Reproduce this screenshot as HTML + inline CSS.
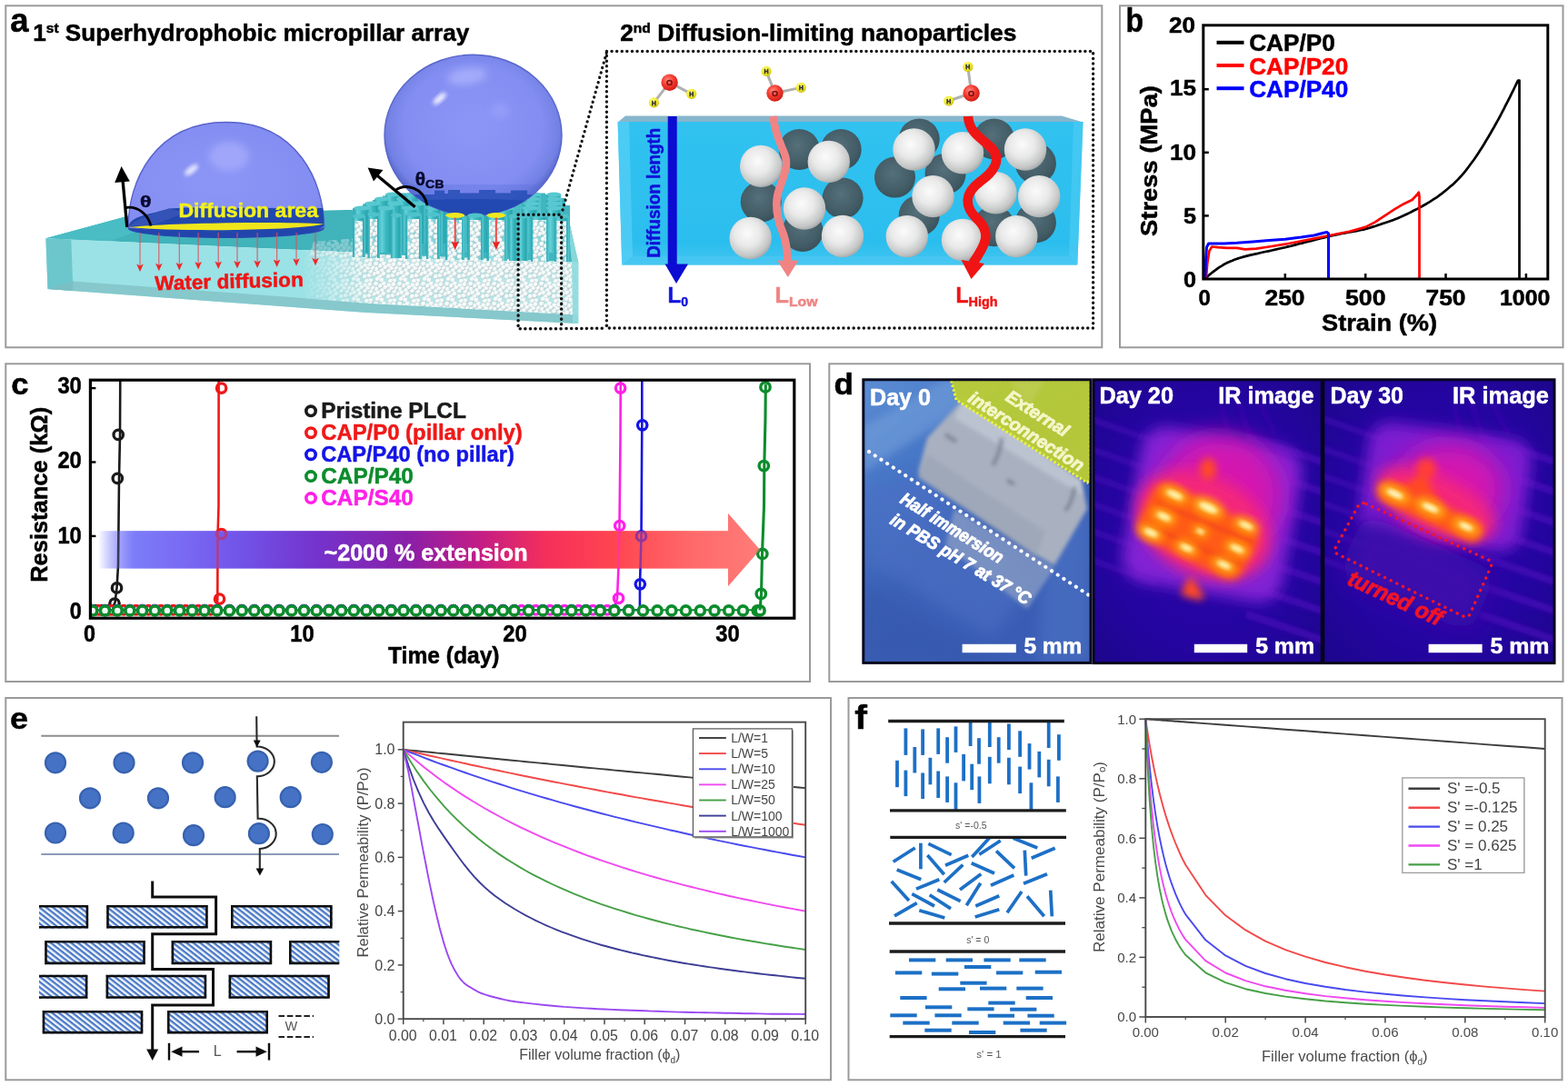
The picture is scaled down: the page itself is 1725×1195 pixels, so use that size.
<!DOCTYPE html>
<html lang="en"><head><meta charset="utf-8"><title>Figure</title>
<style>
html,body{margin:0;padding:0;background:#fff;}
body{width:1725px;height:1195px;overflow:hidden;}
svg{display:block;font-family:'Liberation Sans', sans-serif;}
</style></head>
<body>
<svg width="1725" height="1195" viewBox="0 0 1725 1195">
<defs>
<radialGradient id="np" cx="0.4" cy="0.35" r="0.7"><stop offset="0" stop-color="#ffffff"/><stop offset="0.6" stop-color="#eef4f4"/><stop offset="1" stop-color="#a9bcbc"/></radialGradient>
<pattern id="npat" width="26" height="22" patternUnits="userSpaceOnUse"><circle cx="11.8" cy="12.3" r="2.7" fill="url(#np)"/><circle cx="-2.0" cy="10.2" r="2.7" fill="url(#np)"/><circle cx="24.0" cy="10.2" r="2.7" fill="url(#np)"/><circle cx="4.8" cy="11.3" r="2.7" fill="url(#np)"/><circle cx="16.4" cy="17.4" r="2.7" fill="url(#np)"/><circle cx="2.4" cy="6.7" r="2.7" fill="url(#np)"/><circle cx="28.4" cy="6.7" r="2.7" fill="url(#np)"/><circle cx="2.4" cy="17.8" r="2.7" fill="url(#np)"/><circle cx="28.4" cy="17.8" r="2.7" fill="url(#np)"/><circle cx="18.0" cy="0.9" r="2.7" fill="url(#np)"/><circle cx="18.0" cy="22.9" r="2.7" fill="url(#np)"/><circle cx="-0.5" cy="-0.8" r="2.7" fill="url(#np)"/><circle cx="-0.5" cy="21.2" r="2.7" fill="url(#np)"/><circle cx="25.5" cy="-0.8" r="2.7" fill="url(#np)"/><circle cx="25.5" cy="21.2" r="2.7" fill="url(#np)"/><circle cx="4.1" cy="0.3" r="2.7" fill="url(#np)"/><circle cx="4.1" cy="22.3" r="2.7" fill="url(#np)"/><circle cx="13.7" cy="1.3" r="2.7" fill="url(#np)"/><circle cx="13.7" cy="23.3" r="2.7" fill="url(#np)"/><circle cx="11.5" cy="-3.5" r="2.7" fill="url(#np)"/><circle cx="11.5" cy="18.5" r="2.7" fill="url(#np)"/><circle cx="11.9" cy="6.1" r="2.7" fill="url(#np)"/><circle cx="21.8" cy="15.6" r="2.7" fill="url(#np)"/><circle cx="19.9" cy="8.8" r="2.7" fill="url(#np)"/><circle cx="6.5" cy="4.2" r="2.7" fill="url(#np)"/><circle cx="6.2" cy="15.5" r="2.7" fill="url(#np)"/><circle cx="-2.1" cy="4.5" r="2.7" fill="url(#np)"/><circle cx="23.9" cy="4.5" r="2.7" fill="url(#np)"/><circle cx="18.0" cy="12.9" r="2.7" fill="url(#np)"/><circle cx="8.1" cy="8.4" r="2.7" fill="url(#np)"/><circle cx="-0.0" cy="14.1" r="2.7" fill="url(#np)"/><circle cx="26.0" cy="14.1" r="2.7" fill="url(#np)"/><circle cx="15.1" cy="9.2" r="2.7" fill="url(#np)"/><circle cx="17.1" cy="5.2" r="2.7" fill="url(#np)"/></pattern>
<linearGradient id="npfade" x1="0" y1="0" x2="1" y2="0"><stop offset="0" stop-color="#fff" stop-opacity="0"/><stop offset="0.12" stop-color="#fff" stop-opacity="0.5"/><stop offset="0.25" stop-color="#fff" stop-opacity="1"/><stop offset="1" stop-color="#fff" stop-opacity="1"/></linearGradient>
<mask id="npmask"><rect x="330" y="230" width="320" height="140" fill="url(#npfade)"/></mask>
<linearGradient id="pil" x1="0" y1="0" x2="1" y2="0"><stop offset="0" stop-color="#2aa6b0"/><stop offset="0.25" stop-color="#66d2da"/><stop offset="0.5" stop-color="#3ab8c0"/><stop offset="0.8" stop-color="#2aa6b0"/><stop offset="1" stop-color="#58c8d0"/></linearGradient>
<radialGradient id="drop1" cx="0.45" cy="0.55" r="0.75"><stop offset="0" stop-color="#8c96f6"/><stop offset="0.7" stop-color="#848ef2"/><stop offset="0.93" stop-color="#7480e4"/><stop offset="1" stop-color="#6070d4"/></radialGradient>
<radialGradient id="drop2" cx="0.5" cy="0.45" r="0.52"><stop offset="0" stop-color="#8c96f6"/><stop offset="0.75" stop-color="#848ef2"/><stop offset="0.94" stop-color="#7280e4"/><stop offset="1" stop-color="#5e6ed2"/></radialGradient>
<linearGradient id="d2dark" x1="0" y1="0" x2="0" y2="1"><stop offset="0" stop-color="#2a48b8" stop-opacity="0"/><stop offset="0.45" stop-color="#2a48b8" stop-opacity="0.75"/><stop offset="1" stop-color="#2040b0" stop-opacity="0.95"/></linearGradient>
<radialGradient id="ws" cx="0.42" cy="0.38" r="0.68"><stop offset="0" stop-color="#fbfbfb"/><stop offset="0.45" stop-color="#e9e9e9"/><stop offset="0.8" stop-color="#c4c6c6"/><stop offset="1" stop-color="#9a9e9e"/></radialGradient>
<radialGradient id="ds" cx="0.45" cy="0.4" r="0.7"><stop offset="0" stop-color="#55707a"/><stop offset="0.7" stop-color="#415a64"/><stop offset="1" stop-color="#33484f"/></radialGradient>
<radialGradient id="ox" cx="0.4" cy="0.35" r="0.7"><stop offset="0" stop-color="#ff8a80"/><stop offset="0.5" stop-color="#f63a30"/><stop offset="1" stop-color="#c81a14"/></radialGradient>
<radialGradient id="hy" cx="0.4" cy="0.35" r="0.7"><stop offset="0" stop-color="#ffff90"/><stop offset="0.6" stop-color="#f2ea20"/><stop offset="1" stop-color="#c4b810"/></radialGradient>
<linearGradient id="insf" x1="0" y1="0" x2="0" y2="1"><stop offset="0" stop-color="#30c2f0"/><stop offset="0.85" stop-color="#2cbeee"/><stop offset="1" stop-color="#44c6f0"/></linearGradient>
<clipPath id="d2clip"><ellipse cx="520.5" cy="148.8" rx="97.5" ry="88.5"/></clipPath>
<linearGradient id="cg" x1="0" y1="0" x2="1" y2="0">
<stop offset="0" stop-color="#8080ff" stop-opacity="0"/>
<stop offset="0.025" stop-color="#8080fc" stop-opacity="0.45"/>
<stop offset="0.055" stop-color="#7c7cf8" stop-opacity="1"/>
<stop offset="0.12" stop-color="#7a6cf4"/>
<stop offset="0.22" stop-color="#7152e8"/>
<stop offset="0.33" stop-color="#7433cc"/>
<stop offset="0.47" stop-color="#8a1fa8"/>
<stop offset="0.58" stop-color="#c51d84"/>
<stop offset="0.68" stop-color="#f5305a"/>
<stop offset="0.78" stop-color="#ff4550"/>
<stop offset="0.9" stop-color="#ff6a6a"/>
<stop offset="1" stop-color="#ff7c78"/>
</linearGradient>
<filter id="bl2" x="-20%" y="-20%" width="140%" height="140%"><feGaussianBlur stdDeviation="2"/></filter>
<filter id="bl4" x="-30%" y="-30%" width="160%" height="160%"><feGaussianBlur stdDeviation="4"/></filter>
<filter id="bl8" x="-40%" y="-40%" width="180%" height="180%"><feGaussianBlur stdDeviation="8"/></filter>
<filter id="bl16" x="-60%" y="-60%" width="220%" height="220%"><feGaussianBlur stdDeviation="16"/></filter>
<filter id="bl1" x="-20%" y="-20%" width="140%" height="140%"><feGaussianBlur stdDeviation="1"/></filter>
<linearGradient id="d1bg" x1="0" y1="0" x2="0.6" y2="1">
<stop offset="0" stop-color="#5c8ed4"/><stop offset="0.28" stop-color="#4878c8"/><stop offset="0.6" stop-color="#3c62b8"/><stop offset="1" stop-color="#3a5cb4"/>
</linearGradient>
<radialGradient id="irbg" cx="0.5" cy="0.5" r="0.75">
<stop offset="0" stop-color="#3a0ca8"/><stop offset="0.6" stop-color="#2a0a9c"/><stop offset="1" stop-color="#1c0888"/>
</radialGradient>
<radialGradient id="glowA" cx="0.5" cy="0.5" r="0.5">
<stop offset="0" stop-color="#c424a6"/><stop offset="0.3" stop-color="#a81eb0"/><stop offset="0.55" stop-color="#7416b0" stop-opacity="0.95"/><stop offset="0.78" stop-color="#4610a4" stop-opacity="0.7"/><stop offset="1" stop-color="#230a96" stop-opacity="0"/>
</radialGradient>
<radialGradient id="glowB" cx="0.5" cy="0.5" r="0.5">
<stop offset="0" stop-color="#ff3a6a"/><stop offset="0.55" stop-color="#f02c80" stop-opacity="0.95"/><stop offset="0.8" stop-color="#d626a0" stop-opacity="0.6"/><stop offset="1" stop-color="#b020b0" stop-opacity="0"/>
</radialGradient>
<radialGradient id="irvig" cx="0.5" cy="0.5" r="0.75">
<stop offset="0" stop-color="#2a04ac"/><stop offset="0.6" stop-color="#2405a0"/><stop offset="1" stop-color="#1b0688"/>
</radialGradient>
<filter id="fb14" filterUnits="userSpaceOnUse" x="1150" y="380" width="620" height="400"><feGaussianBlur stdDeviation="14"/></filter>
<filter id="fb8" filterUnits="userSpaceOnUse" x="1150" y="380" width="620" height="400"><feGaussianBlur stdDeviation="8"/></filter>
<filter id="fb5" filterUnits="userSpaceOnUse" x="1150" y="380" width="620" height="400"><feGaussianBlur stdDeviation="4.5"/></filter>
<clipPath id="dc1"><rect x="949.5" y="417.6" width="250.5" height="312"/></clipPath>
<clipPath id="dc2"><rect x="1203" y="417.6" width="250.5" height="312"/></clipPath>
<clipPath id="dc3"><rect x="1456.5" y="417.6" width="253.5" height="312"/></clipPath>
<pattern id="hatch" width="4.6" height="4.6" patternUnits="userSpaceOnUse" patternTransform="rotate(38)">
<rect x="0" y="0" width="4.6" height="4.6" fill="#f4f8ff"/>
<rect x="0" y="0" width="4.6" height="2.3" fill="#4a78c6"/>
</pattern>
<filter id="soft" x="-5%" y="-5%" width="110%" height="110%"><feGaussianBlur stdDeviation="0.45"/></filter>
</defs>
<rect x="0" y="0" width="1725" height="1195" fill="#fff"/>
<rect x="6.3" y="6.3" width="1206.0" height="376.0" fill="none" stroke="#9a9a9a" stroke-width="2" />
<rect x="1232.0" y="6.3" width="487.5" height="376.0" fill="none" stroke="#9a9a9a" stroke-width="2" />
<rect x="6.3" y="400.3" width="884.7" height="349.7" fill="none" stroke="#9a9a9a" stroke-width="2" />
<rect x="912.3" y="400.3" width="807.2" height="349.7" fill="none" stroke="#9a9a9a" stroke-width="2" />
<rect x="6.3" y="768.0" width="907.7" height="420.3" fill="none" stroke="#9a9a9a" stroke-width="2" />
<rect x="933.5" y="768.0" width="785.0" height="420.3" fill="none" stroke="#9a9a9a" stroke-width="2" />
<g id="panel_a">
<g filter="url(#soft)">
<polygon points="50.4,262.2 141.5,237.5 380,231 623,229 636,288.5 351.7,276" fill="#3fb3bb"/>
<polygon points="50.4,262.2 141.5,237.5 200,237 120,265.5" fill="#49bcc4"/>
<polygon points="50.4,262.2 351.7,276 636,288.5 636,356 400,343.7 52.5,318" fill="#9ae2e6"/>
<polygon points="50.4,262.2 78.3,263.5 80.4,319.8 52.5,318" fill="#6cc7cc"/>
<polygon points="80.4,309.4 400,333 636,346 636,356 400,343.7 52.5,318" fill="#86c8cc"/>
<polygon points="80.4,309.4 52.5,318 80.4,319.9" fill="#79bfc3"/>
</g>
<g mask="url(#npmask)">
<polygon points="335,275.3 636,289 636,346.5 400,333.5 335,328.6" fill="#b8e6e8"/>
<polygon points="335,275.3 636,289 636,346.5 400,333.5 335,328.6" fill="url(#npat)"/>
</g>
<polygon points="345,266 392,262 392,284 340,281" fill="url(#npat)" opacity="0.35" filter="url(#soft)"/>
<polygon points="624,236 636.5,288.5 636.5,356 630,355.6 629,290" fill="#8fdadd" opacity="0.9"/>
<g filter="url(#soft)">
<ellipse cx="248.7" cy="251.5" rx="108" ry="10.5" fill="#2a49b4"/>
<path d="M141 250 C141 200 170 134.5 248.7 134.5 C327 134.5 356.5 200 356.5 250 C356.5 256 141 256 141 250 Z" fill="url(#drop1)" stroke="#5862cc" stroke-width="1.4"/>
<path d="M142 249 C142 243 150 238 170 234 L186 229.5 L204 228.5 L355 229 C356 234 356.5 242 356 249 C340 258 160 258 142 249 Z" fill="#2347ac"/>
<path d="M142 249 C150 241 165 236 186 229.5 L204 234 L170 247 Z" fill="#3c58bc" opacity="0.7"/>
<path d="M142.5 250 C190 245 310 243.8 356 246.5 C330 253.5 200 255.5 142.5 250 Z" fill="#f0e61e"/>
<path d="M143 251 C200 257 310 256 355.5 249.5 C345 258 300 261.5 248 261.5 C190 261.5 150 258 143 251 Z" fill="#2345ac"/>
<ellipse cx="252" cy="172" rx="22" ry="16" fill="#b4b8ff" opacity="0.55" filter="url(#bl4)"/>
<ellipse cx="210.5" cy="187" rx="9" ry="3.6" fill="#f2f2ff" opacity="0.9" filter="url(#bl2)" transform="rotate(-38 210.5 187)"/>
</g>
<line x1="154.0" y1="256.0" x2="154.0" y2="294.0" stroke="#e0505a" stroke-width="1.2" opacity="0.85"/>
<polygon points="150.2,290.5 154.0,292.5 157.8,290.5 154.0,299.0" fill="#f02828"/>
<line x1="174.8" y1="256.0" x2="174.8" y2="293.2" stroke="#e0505a" stroke-width="1.2" opacity="0.85"/>
<polygon points="171.0,289.7 174.8,291.7 178.6,289.7 174.8,298.2" fill="#f02828"/>
<line x1="197.3" y1="256.0" x2="197.3" y2="292.6" stroke="#e0505a" stroke-width="1.2" opacity="0.85"/>
<polygon points="193.5,289.1 197.3,291.1 201.1,289.1 197.3,297.6" fill="#f02828"/>
<line x1="218.1" y1="256.0" x2="218.1" y2="291.5" stroke="#e0505a" stroke-width="1.2" opacity="0.85"/>
<polygon points="214.3,288.0 218.1,290.0 221.9,288.0 218.1,296.5" fill="#f02828"/>
<line x1="240.2" y1="256.0" x2="240.2" y2="291.0" stroke="#e0505a" stroke-width="1.2" opacity="0.85"/>
<polygon points="236.4,287.5 240.2,289.5 244.0,287.5 240.2,296.0" fill="#f02828"/>
<line x1="261.0" y1="256.0" x2="261.0" y2="290.4" stroke="#e0505a" stroke-width="1.2" opacity="0.85"/>
<polygon points="257.2,286.9 261.0,288.9 264.8,286.9 261.0,295.4" fill="#f02828"/>
<line x1="283.1" y1="256.0" x2="283.1" y2="290.0" stroke="#e0505a" stroke-width="1.2" opacity="0.85"/>
<polygon points="279.3,286.5 283.1,288.5 286.9,286.5 283.1,295.0" fill="#f02828"/>
<line x1="304.6" y1="256.0" x2="304.6" y2="289.0" stroke="#e0505a" stroke-width="1.2" opacity="0.85"/>
<polygon points="300.8,285.5 304.6,287.5 308.4,285.5 304.6,294.0" fill="#f02828"/>
<line x1="326.0" y1="256.0" x2="326.0" y2="287.8" stroke="#e0505a" stroke-width="1.2" opacity="0.85"/>
<polygon points="322.2,284.3 326.0,286.3 329.8,284.3 326.0,292.8" fill="#f02828"/>
<line x1="347.0" y1="256.0" x2="347.0" y2="287.2" stroke="#e0505a" stroke-width="1.2" opacity="0.85"/>
<polygon points="343.2,283.7 347.0,285.7 350.8,283.7 347.0,292.2" fill="#f02828"/>
<text x="0" y="0" font-size="22" fill="#f01414" font-weight="700" stroke="#f01414" stroke-linejoin="round" stroke-width="0.5" textLength="163.5" lengthAdjust="spacingAndGlyphs" transform="translate(170.5 319.2) rotate(-1.5)" >Water diffusion</text>
<text x="196.4" y="239.4" font-size="21.5" fill="#f2f01e" font-weight="700" stroke="#f2f01e" stroke-linejoin="round" stroke-width="0.5" textLength="153.6" lengthAdjust="spacingAndGlyphs" >Diffusion  area</text>
<line x1="139.8" y1="250.0" x2="135.0" y2="198.0" stroke="#000" stroke-width="3.3" />
<polygon points="126.2,201 142.8,199.5 133.6,183" fill="#000"/>
<path d="M138.2 228.5 C152 226.5 163 236 166 248.5" fill="none" stroke="#000" stroke-width="2.8"/>
<text x="154.0" y="227.5" font-size="19" fill="#0a0a30" font-weight="700" stroke="#0a0a30" stroke-linejoin="round" stroke-width="0.5" textLength="12.5" lengthAdjust="spacingAndGlyphs" >θ</text>
<g filter="url(#soft)">
<path d="M388 229 H399 V224.5 H410 V220 H421 V215.5 H432 V212.5 H600 V214 H612 V218 H622 V226 H627 V287 L388 279 Z" fill="#3fb6be"/>
<rect x="424.0" y="214.0" width="15.5" height="36.0" fill="url(#pil)" stroke="none" stroke-width="1" />
<ellipse cx="431.8" cy="214.0" rx="7.8" ry="2.4" fill="#58c8d0"/>
<rect x="446.2" y="214.0" width="15.5" height="36.0" fill="url(#pil)" stroke="none" stroke-width="1" />
<ellipse cx="454.0" cy="214.0" rx="7.8" ry="2.4" fill="#58c8d0"/>
<rect x="468.4" y="214.0" width="15.5" height="36.0" fill="url(#pil)" stroke="none" stroke-width="1" />
<ellipse cx="476.2" cy="214.0" rx="7.8" ry="2.4" fill="#58c8d0"/>
<rect x="490.7" y="214.0" width="15.5" height="36.0" fill="url(#pil)" stroke="none" stroke-width="1" />
<ellipse cx="498.4" cy="214.0" rx="7.8" ry="2.4" fill="#58c8d0"/>
<rect x="512.9" y="214.0" width="15.5" height="36.0" fill="url(#pil)" stroke="none" stroke-width="1" />
<ellipse cx="520.6" cy="214.0" rx="7.8" ry="2.4" fill="#58c8d0"/>
<rect x="535.1" y="214.0" width="15.5" height="36.0" fill="url(#pil)" stroke="none" stroke-width="1" />
<ellipse cx="542.9" cy="214.0" rx="7.8" ry="2.4" fill="#58c8d0"/>
<rect x="557.3" y="214.0" width="15.5" height="36.0" fill="url(#pil)" stroke="none" stroke-width="1" />
<ellipse cx="565.1" cy="214.0" rx="7.8" ry="2.4" fill="#58c8d0"/>
<rect x="579.6" y="214.0" width="15.5" height="36.0" fill="url(#pil)" stroke="none" stroke-width="1" />
<ellipse cx="587.3" cy="214.0" rx="7.8" ry="2.4" fill="#58c8d0"/>
<rect x="601.8" y="214.0" width="15.5" height="36.0" fill="url(#pil)" stroke="none" stroke-width="1" />
<ellipse cx="609.5" cy="214.0" rx="7.8" ry="2.4" fill="#58c8d0"/>
<rect x="412.0" y="219.0" width="16.5" height="39.0" fill="url(#pil)" stroke="none" stroke-width="1" />
<ellipse cx="420.2" cy="219.0" rx="8.2" ry="2.4" fill="#58c8d0"/>
<rect x="435.7" y="219.0" width="16.5" height="39.0" fill="url(#pil)" stroke="none" stroke-width="1" />
<ellipse cx="443.9" cy="219.0" rx="8.2" ry="2.4" fill="#58c8d0"/>
<rect x="459.3" y="219.0" width="16.5" height="39.0" fill="url(#pil)" stroke="none" stroke-width="1" />
<ellipse cx="467.6" cy="219.0" rx="8.2" ry="2.4" fill="#58c8d0"/>
<rect x="483.0" y="219.0" width="16.5" height="39.0" fill="url(#pil)" stroke="none" stroke-width="1" />
<ellipse cx="491.2" cy="219.0" rx="8.2" ry="2.4" fill="#58c8d0"/>
<rect x="506.7" y="219.0" width="16.5" height="39.0" fill="url(#pil)" stroke="none" stroke-width="1" />
<ellipse cx="514.9" cy="219.0" rx="8.2" ry="2.4" fill="#58c8d0"/>
<rect x="530.3" y="219.0" width="16.5" height="39.0" fill="url(#pil)" stroke="none" stroke-width="1" />
<ellipse cx="538.6" cy="219.0" rx="8.2" ry="2.4" fill="#58c8d0"/>
<rect x="554.0" y="219.0" width="16.5" height="39.0" fill="url(#pil)" stroke="none" stroke-width="1" />
<ellipse cx="562.2" cy="219.0" rx="8.2" ry="2.4" fill="#58c8d0"/>
<rect x="577.7" y="219.0" width="16.5" height="39.0" fill="url(#pil)" stroke="none" stroke-width="1" />
<ellipse cx="585.9" cy="219.0" rx="8.2" ry="2.4" fill="#58c8d0"/>
<rect x="601.3" y="219.0" width="16.5" height="39.0" fill="url(#pil)" stroke="none" stroke-width="1" />
<ellipse cx="609.6" cy="219.0" rx="8.2" ry="2.4" fill="#58c8d0"/>
<rect x="401.0" y="224.0" width="17.5" height="44.0" fill="url(#pil)" stroke="none" stroke-width="1" />
<ellipse cx="409.8" cy="224.0" rx="8.8" ry="2.4" fill="#58c8d0"/>
<rect x="426.0" y="224.0" width="17.5" height="44.0" fill="url(#pil)" stroke="none" stroke-width="1" />
<ellipse cx="434.8" cy="224.0" rx="8.8" ry="2.4" fill="#58c8d0"/>
<rect x="451.0" y="224.0" width="17.5" height="44.0" fill="url(#pil)" stroke="none" stroke-width="1" />
<ellipse cx="459.8" cy="224.0" rx="8.8" ry="2.4" fill="#58c8d0"/>
<rect x="476.0" y="224.0" width="17.5" height="44.0" fill="url(#pil)" stroke="none" stroke-width="1" />
<ellipse cx="484.8" cy="224.0" rx="8.8" ry="2.4" fill="#58c8d0"/>
<rect x="501.0" y="224.0" width="17.5" height="44.0" fill="url(#pil)" stroke="none" stroke-width="1" />
<ellipse cx="509.8" cy="224.0" rx="8.8" ry="2.4" fill="#58c8d0"/>
<rect x="526.0" y="224.0" width="17.5" height="44.0" fill="url(#pil)" stroke="none" stroke-width="1" />
<ellipse cx="534.8" cy="224.0" rx="8.8" ry="2.4" fill="#58c8d0"/>
<rect x="551.0" y="224.0" width="17.5" height="44.0" fill="url(#pil)" stroke="none" stroke-width="1" />
<ellipse cx="559.8" cy="224.0" rx="8.8" ry="2.4" fill="#58c8d0"/>
<rect x="576.0" y="224.0" width="17.5" height="44.0" fill="url(#pil)" stroke="none" stroke-width="1" />
<ellipse cx="584.8" cy="224.0" rx="8.8" ry="2.4" fill="#58c8d0"/>
<rect x="601.0" y="224.0" width="17.5" height="44.0" fill="url(#pil)" stroke="none" stroke-width="1" />
<ellipse cx="609.8" cy="224.0" rx="8.8" ry="2.4" fill="#58c8d0"/>
<rect x="389.0" y="229.0" width="18.5" height="49.0" fill="url(#pil)" stroke="none" stroke-width="1" />
<ellipse cx="398.2" cy="229.0" rx="9.2" ry="2.4" fill="#58c8d0"/>
<rect x="415.4" y="229.0" width="18.5" height="49.0" fill="url(#pil)" stroke="none" stroke-width="1" />
<ellipse cx="424.7" cy="229.0" rx="9.2" ry="2.4" fill="#58c8d0"/>
<rect x="441.9" y="229.0" width="18.5" height="49.0" fill="url(#pil)" stroke="none" stroke-width="1" />
<ellipse cx="451.1" cy="229.0" rx="9.2" ry="2.4" fill="#58c8d0"/>
<rect x="468.3" y="229.0" width="18.5" height="49.0" fill="url(#pil)" stroke="none" stroke-width="1" />
<ellipse cx="477.6" cy="229.0" rx="9.2" ry="2.4" fill="#58c8d0"/>
<rect x="494.8" y="229.0" width="18.5" height="49.0" fill="url(#pil)" stroke="none" stroke-width="1" />
<ellipse cx="504.0" cy="229.0" rx="9.2" ry="2.4" fill="#58c8d0"/>
<rect x="521.2" y="229.0" width="18.5" height="49.0" fill="url(#pil)" stroke="none" stroke-width="1" />
<ellipse cx="530.5" cy="229.0" rx="9.2" ry="2.4" fill="#58c8d0"/>
<rect x="547.7" y="229.0" width="18.5" height="49.0" fill="url(#pil)" stroke="none" stroke-width="1" />
<ellipse cx="556.9" cy="229.0" rx="9.2" ry="2.4" fill="#58c8d0"/>
<rect x="574.1" y="229.0" width="18.5" height="49.0" fill="url(#pil)" stroke="none" stroke-width="1" />
<ellipse cx="583.4" cy="229.0" rx="9.2" ry="2.4" fill="#58c8d0"/>
<rect x="600.6" y="229.0" width="18.5" height="49.0" fill="url(#pil)" stroke="none" stroke-width="1" />
<ellipse cx="609.8" cy="229.0" rx="9.2" ry="2.4" fill="#58c8d0"/>
</g>
<g filter="url(#soft)">
<ellipse cx="520.5" cy="148.8" rx="97.5" ry="88.5" fill="url(#drop2)" stroke="#5866c8" stroke-width="1.4"/>
<g clip-path="url(#d2clip)">
<rect x="420" y="203" width="200" height="12" fill="#5a70dc" opacity="0.35"/>
<path d="M420 214 H478 V209.5 H489 V213 H493 V209 H506 V212.5 H527 V209 H545 V212.5 H562 V209.5 H580 V214 H620 V240 H420 Z" fill="#2a50b8" opacity="0.92"/>
<path d="M420 224 Q520 214 620 224 V240 H420 Z" fill="#1e46ac" opacity="0.7"/>
</g>
<ellipse cx="514" cy="84" rx="22" ry="9" fill="#b8c0ff" opacity="0.6" filter="url(#bl4)" transform="rotate(-8 514 84)"/><ellipse cx="550" cy="122" rx="10" ry="8" fill="#a8b0ff" opacity="0.4" filter="url(#bl4)"/>
<ellipse cx="483.7" cy="108.5" rx="9" ry="3.6" fill="#f4f4ff" opacity="0.95" filter="url(#bl2)" transform="rotate(-42 483.7 108.5)"/>
</g>
<g filter="url(#soft)">
<rect x="388.0" y="238.0" width="14.0" height="45.0" fill="url(#pil)" stroke="none" stroke-width="1" />
<ellipse cx="395.0" cy="238.0" rx="7.0" ry="2.4" fill="#4fc2ca"/>
<rect x="404.5" y="236.0" width="13.5" height="48.0" fill="url(#pil)" stroke="none" stroke-width="1" />
<ellipse cx="411.2" cy="236.0" rx="6.8" ry="2.4" fill="#4fc2ca"/>
<rect x="430.0" y="237.0" width="12.0" height="47.0" fill="url(#pil)" stroke="none" stroke-width="1" />
<ellipse cx="436.0" cy="237.0" rx="6.0" ry="2.4" fill="#4fc2ca"/>
<rect x="446.0" y="236.0" width="18.0" height="49.0" fill="url(#pil)" stroke="none" stroke-width="1" />
<ellipse cx="455.0" cy="236.0" rx="9.0" ry="2.4" fill="#4fc2ca"/>
<rect x="469.0" y="236.0" width="15.0" height="49.0" fill="url(#pil)" stroke="none" stroke-width="1" />
<ellipse cx="476.5" cy="236.0" rx="7.5" ry="2.4" fill="#4fc2ca"/>
<rect x="490.0" y="237.0" width="21.0" height="49.0" fill="url(#pil)" stroke="none" stroke-width="1" />
<ellipse cx="500.5" cy="237.0" rx="10.5" ry="2.4" fill="#4fc2ca"/>
<rect x="514.5" y="237.0" width="17.5" height="49.0" fill="url(#pil)" stroke="none" stroke-width="1" />
<ellipse cx="523.2" cy="237.0" rx="8.8" ry="2.4" fill="#4fc2ca"/>
<rect x="535.5" y="237.0" width="22.5" height="50.0" fill="url(#pil)" stroke="none" stroke-width="1" />
<ellipse cx="546.8" cy="237.0" rx="11.2" ry="2.4" fill="#4fc2ca"/>
<rect x="560.0" y="238.0" width="9.0" height="49.0" fill="url(#pil)" stroke="none" stroke-width="1" />
<ellipse cx="564.5" cy="238.0" rx="4.5" ry="2.4" fill="#4fc2ca"/>
<rect x="570.0" y="238.0" width="11.0" height="49.0" fill="url(#pil)" stroke="none" stroke-width="1" />
<ellipse cx="575.5" cy="238.0" rx="5.5" ry="2.4" fill="#4fc2ca"/>
<rect x="584.0" y="237.0" width="20.0" height="51.0" fill="url(#pil)" stroke="none" stroke-width="1" />
<ellipse cx="594.0" cy="237.0" rx="10.0" ry="2.4" fill="#4fc2ca"/>
<rect x="610.0" y="238.0" width="16.0" height="50.0" fill="url(#pil)" stroke="none" stroke-width="1" />
<ellipse cx="618.0" cy="238.0" rx="8.0" ry="2.4" fill="#4fc2ca"/>
</g>
<rect x="390.5" y="243.0" width="8.5" height="42.0" fill="#c8ecee" stroke="none" stroke-width="1" opacity="0.55"/>
<rect x="390.5" y="243.0" width="8.5" height="42.0" fill="url(#npat)" stroke="none" stroke-width="1" />
<rect x="407.0" y="241.0" width="8.0" height="45.0" fill="#c8ecee" stroke="none" stroke-width="1" opacity="0.55"/>
<rect x="407.0" y="241.0" width="8.0" height="45.0" fill="url(#npat)" stroke="none" stroke-width="1" />
<rect x="448.5" y="241.0" width="12.5" height="46.0" fill="#c8ecee" stroke="none" stroke-width="1" opacity="0.55"/>
<rect x="448.5" y="241.0" width="12.5" height="46.0" fill="url(#npat)" stroke="none" stroke-width="1" />
<rect x="471.5" y="241.0" width="9.5" height="46.0" fill="#c8ecee" stroke="none" stroke-width="1" opacity="0.55"/>
<rect x="471.5" y="241.0" width="9.5" height="46.0" fill="url(#npat)" stroke="none" stroke-width="1" />
<rect x="492.5" y="242.0" width="15.5" height="46.0" fill="#c8ecee" stroke="none" stroke-width="1" opacity="0.55"/>
<rect x="492.5" y="242.0" width="15.5" height="46.0" fill="url(#npat)" stroke="none" stroke-width="1" />
<rect x="517.0" y="242.0" width="12.0" height="46.0" fill="#c8ecee" stroke="none" stroke-width="1" opacity="0.55"/>
<rect x="517.0" y="242.0" width="12.0" height="46.0" fill="url(#npat)" stroke="none" stroke-width="1" />
<rect x="538.0" y="242.0" width="17.0" height="47.0" fill="#c8ecee" stroke="none" stroke-width="1" opacity="0.55"/>
<rect x="538.0" y="242.0" width="17.0" height="47.0" fill="url(#npat)" stroke="none" stroke-width="1" />
<rect x="586.5" y="242.0" width="14.5" height="48.0" fill="#c8ecee" stroke="none" stroke-width="1" opacity="0.55"/>
<rect x="586.5" y="242.0" width="14.5" height="48.0" fill="url(#npat)" stroke="none" stroke-width="1" />
<rect x="612.5" y="243.0" width="10.5" height="47.0" fill="#c8ecee" stroke="none" stroke-width="1" opacity="0.55"/>
<rect x="612.5" y="243.0" width="10.5" height="47.0" fill="url(#npat)" stroke="none" stroke-width="1" />
<ellipse cx="500.7" cy="237" rx="10.5" ry="2.9" fill="#efe81e"/>
<line x1="500.7" y1="239.5" x2="500.7" y2="268.0" stroke="#f04848" stroke-width="2" />
<polygon points="496.5,265.5 500.7,267 504.9,265.5 500.7,275" fill="#f02020"/>
<ellipse cx="545.8" cy="237" rx="10.5" ry="2.9" fill="#efe81e"/>
<line x1="545.8" y1="239.5" x2="545.8" y2="268.0" stroke="#f04848" stroke-width="2" />
<polygon points="541.5999999999999,265.5 545.8,267 550.0,265.5 545.8,275" fill="#f02020"/>
<line x1="456.6" y1="227.8" x2="413.0" y2="191.5" stroke="#000" stroke-width="3.3" />
<polygon points="404.6,184.6 421.5,187 411,199.5" fill="#000"/>
<path d="M434 210 C446 201 466 206 470 226" fill="none" stroke="#000" stroke-width="2.8"/>
<text x="456.8" y="203.5" font-size="20" fill="#0a0a30" font-weight="700" stroke="#0a0a30" stroke-linejoin="round" stroke-width="0.5" textLength="31.7" lengthAdjust="spacingAndGlyphs" >θ<tspan font-size="13.5" dy="3.5">CB</tspan></text>
<rect x="570.1" y="236.2" width="47.5" height="125.6" fill="none" stroke="#141414" stroke-width="3.5" stroke-dasharray="0.1 5.5" stroke-linecap="round"/>
<line x1="619.0" y1="231.0" x2="667.3" y2="58.0" stroke="#141414" stroke-width="3.3" stroke-dasharray="0.1 5.5" stroke-linecap="round"/>
<line x1="623.0" y1="361.6" x2="665.0" y2="361.2" stroke="#141414" stroke-width="3.5" stroke-dasharray="0.1 5.5" stroke-linecap="round"/>
<rect x="667.4" y="56.4" width="535.2" height="304.6" fill="none" stroke="#141414" stroke-width="3.4" stroke-dasharray="0.1 5.5" stroke-linecap="round"/>
<g filter="url(#soft)">
<polygon points="688,127.5 1168,127.5 1191.5,134.5 679.6,134.5" fill="#86b6cc"/>
<polygon points="679.6,134 1191.5,134 1185.3,291.5 684.2,291.5" fill="url(#insf)"/>
<polygon points="679.6,134 692,134 696,282 684.2,291.5" fill="#58d0f6" opacity="0.7"/>
<polygon points="1191.5,134 1181,134 1176,282 1185.3,291.5" fill="#4acaf4" opacity="0.7"/>
<polygon points="696,282 1176,282 1185.3,291.5 684.2,291.5" fill="#48c8f2" opacity="0.7"/>
<circle cx="879.3" cy="164.5" r="22.5" fill="url(#ds)" stroke="none" stroke-width="1" />
<circle cx="925.2" cy="164.5" r="22.5" fill="url(#ds)" stroke="none" stroke-width="1" />
<circle cx="837.2" cy="221.9" r="22.5" fill="url(#ds)" stroke="none" stroke-width="1" />
<circle cx="927.1" cy="218.0" r="22.5" fill="url(#ds)" stroke="none" stroke-width="1" />
<circle cx="883.0" cy="254.4" r="22.5" fill="url(#ds)" stroke="none" stroke-width="1" />
<circle cx="984.5" cy="195.1" r="22.5" fill="url(#ds)" stroke="none" stroke-width="1" />
<circle cx="1011.2" cy="153.0" r="22.5" fill="url(#ds)" stroke="none" stroke-width="1" />
<circle cx="1093.5" cy="153.0" r="22.5" fill="url(#ds)" stroke="none" stroke-width="1" />
<circle cx="1139.4" cy="179.8" r="22.5" fill="url(#ds)" stroke="none" stroke-width="1" />
<circle cx="1040.0" cy="191.3" r="22.5" fill="url(#ds)" stroke="none" stroke-width="1" />
<circle cx="1011.2" cy="237.2" r="22.5" fill="url(#ds)" stroke="none" stroke-width="1" />
<circle cx="1093.5" cy="248.7" r="22.5" fill="url(#ds)" stroke="none" stroke-width="1" />
<circle cx="1139.4" cy="244.8" r="22.5" fill="url(#ds)" stroke="none" stroke-width="1" />
<circle cx="837.2" cy="182.9" r="23.2" fill="url(#ws)" stroke="none" stroke-width="1" />
<circle cx="911.8" cy="177.9" r="23.2" fill="url(#ws)" stroke="none" stroke-width="1" />
<circle cx="885.0" cy="229.5" r="23.2" fill="url(#ws)" stroke="none" stroke-width="1" />
<circle cx="825.7" cy="262.0" r="23.2" fill="url(#ws)" stroke="none" stroke-width="1" />
<circle cx="927.0" cy="260.0" r="23.2" fill="url(#ws)" stroke="none" stroke-width="1" />
<circle cx="1005.5" cy="164.5" r="23.2" fill="url(#ws)" stroke="none" stroke-width="1" />
<circle cx="1059.0" cy="168.3" r="23.2" fill="url(#ws)" stroke="none" stroke-width="1" />
<circle cx="1128.0" cy="164.5" r="23.2" fill="url(#ws)" stroke="none" stroke-width="1" />
<circle cx="1026.5" cy="216.1" r="23.2" fill="url(#ws)" stroke="none" stroke-width="1" />
<circle cx="1095.4" cy="212.3" r="23.2" fill="url(#ws)" stroke="none" stroke-width="1" />
<circle cx="1143.2" cy="216.1" r="23.2" fill="url(#ws)" stroke="none" stroke-width="1" />
<circle cx="997.8" cy="260.1" r="23.2" fill="url(#ws)" stroke="none" stroke-width="1" />
<circle cx="1059.0" cy="264.0" r="23.2" fill="url(#ws)" stroke="none" stroke-width="1" />
<circle cx="1118.3" cy="260.1" r="23.2" fill="url(#ws)" stroke="none" stroke-width="1" />
</g>
<rect x="734.7" y="128.0" width="10.0" height="164.0" fill="#0c0cd2" stroke="none" stroke-width="1" />
<polygon points="731.5,290.5 757,290.5 744,312" fill="#0c0cd2"/>
<path d="M850.6 128 C853 150 860 160 864 172 C868 186 859 200 855.5 214 C852 230 856 244 862 258 C866 270 866.5 280 866.5 290" fill="none" stroke="#f08484" stroke-width="8.6"/>
<polygon points="855,286.5 878.5,286.5 866.8,305" fill="#f08484"/>
<path d="M1065 128 C1066 146 1080 152 1090 162 C1104 176 1092 190 1078 200 C1062 212 1060 226 1074 240 C1092 256 1084 270 1070 290" fill="none" stroke="#f01414" stroke-width="10.5"/>
<polygon points="1057.5,286 1083,290 1068.5,307" fill="#f01414"/>
<text x="0" y="0" font-size="20.5" fill="#1010d8" text-anchor="middle" font-weight="700" stroke="#1010d8" stroke-width="0.5" stroke-linejoin="round" textLength="143.0" lengthAdjust="spacingAndGlyphs" transform="translate(725.5 212.2) rotate(-90)" >Diffusion length</text>
<text x="734.5" y="332.8" font-size="24" fill="#1414dc" font-weight="700" stroke="#1414dc" stroke-linejoin="round" stroke-width="0.5" >L<tspan font-size="14" dy="4">0</tspan></text>
<text x="852.5" y="332.8" font-size="24" fill="#f08484" font-weight="700" stroke="#f08484" stroke-linejoin="round" stroke-width="0.5" textLength="47.0" lengthAdjust="spacingAndGlyphs" >L<tspan font-size="15" dy="4">Low</tspan></text>
<text x="1051.4" y="332.8" font-size="24" fill="#f01414" font-weight="700" stroke="#f01414" stroke-linejoin="round" stroke-width="0.5" textLength="46.1" lengthAdjust="spacingAndGlyphs" >L<tspan font-size="15" dy="4">High</tspan></text>
<line x1="736.6" y1="90.7" x2="719.4" y2="112.9" stroke="#b0b0b0" stroke-width="3" />
<line x1="736.6" y1="90.7" x2="760.7" y2="103.3" stroke="#b0b0b0" stroke-width="3" />
<circle cx="719.4" cy="112.9" r="5.6" fill="url(#hy)" stroke="none" stroke-width="1" />
<text x="719.4" y="115.5" font-size="7" fill="#333" font-weight="700" stroke="#333" stroke-linejoin="round" stroke-width="0.5" text-anchor="middle" >H</text>
<circle cx="760.7" cy="103.3" r="5.6" fill="url(#hy)" stroke="none" stroke-width="1" />
<text x="760.7" y="105.9" font-size="7" fill="#333" font-weight="700" stroke="#333" stroke-linejoin="round" stroke-width="0.5" text-anchor="middle" >H</text>
<circle cx="736.6" cy="90.7" r="9.2" fill="url(#ox)" stroke="none" stroke-width="1" />
<text x="736.6" y="94.0" font-size="9" fill="#7a1010" font-weight="700" stroke="#7a1010" stroke-linejoin="round" stroke-width="0.5" text-anchor="middle" >O</text>
<line x1="852.5" y1="102.5" x2="843.0" y2="78.4" stroke="#b0b0b0" stroke-width="3" />
<line x1="852.5" y1="102.5" x2="881.2" y2="96.4" stroke="#b0b0b0" stroke-width="3" />
<circle cx="843.0" cy="78.4" r="5.6" fill="url(#hy)" stroke="none" stroke-width="1" />
<text x="843.0" y="81.0" font-size="7" fill="#333" font-weight="700" stroke="#333" stroke-linejoin="round" stroke-width="0.5" text-anchor="middle" >H</text>
<circle cx="881.2" cy="96.4" r="5.6" fill="url(#hy)" stroke="none" stroke-width="1" />
<text x="881.2" y="99.0" font-size="7" fill="#333" font-weight="700" stroke="#333" stroke-linejoin="round" stroke-width="0.5" text-anchor="middle" >H</text>
<circle cx="852.5" cy="102.5" r="9.2" fill="url(#ox)" stroke="none" stroke-width="1" />
<text x="852.5" y="105.8" font-size="9" fill="#7a1010" font-weight="700" stroke="#7a1010" stroke-linejoin="round" stroke-width="0.5" text-anchor="middle" >O</text>
<line x1="1068.6" y1="102.5" x2="1064.8" y2="73.5" stroke="#b0b0b0" stroke-width="3" />
<line x1="1068.6" y1="102.5" x2="1043.8" y2="111.0" stroke="#b0b0b0" stroke-width="3" />
<circle cx="1064.8" cy="73.5" r="5.6" fill="url(#hy)" stroke="none" stroke-width="1" />
<text x="1064.8" y="76.1" font-size="7" fill="#333" font-weight="700" stroke="#333" stroke-linejoin="round" stroke-width="0.5" text-anchor="middle" >H</text>
<circle cx="1043.8" cy="111.0" r="5.6" fill="url(#hy)" stroke="none" stroke-width="1" />
<text x="1043.8" y="113.6" font-size="7" fill="#333" font-weight="700" stroke="#333" stroke-linejoin="round" stroke-width="0.5" text-anchor="middle" >H</text>
<circle cx="1068.6" cy="102.5" r="9.2" fill="url(#ox)" stroke="none" stroke-width="1" />
<text x="1068.6" y="105.8" font-size="9" fill="#7a1010" font-weight="700" stroke="#7a1010" stroke-linejoin="round" stroke-width="0.5" text-anchor="middle" >O</text>
<text x="36.3" y="45.2" font-size="26.3" fill="#000" font-weight="700" stroke="#000" stroke-linejoin="round" stroke-width="0.5" textLength="480.1" lengthAdjust="spacingAndGlyphs" >1<tspan font-size="15.5" dy="-9.5">st</tspan><tspan dy="9.5"> Superhydrophobic micropillar array</tspan></text>
<text x="682.2" y="45.2" font-size="26.3" fill="#000" font-weight="700" stroke="#000" stroke-linejoin="round" stroke-width="0.5" textLength="436.2" lengthAdjust="spacingAndGlyphs" >2<tspan font-size="15.5" dy="-9.5">nd</tspan><tspan dy="9.5"> Diffusion-limiting nanoparticles</tspan></text>
<text x="11.2" y="35.0" font-size="37" fill="#000" font-weight="700" stroke="#000" stroke-linejoin="round" stroke-width="0.5" textLength="20.3" lengthAdjust="spacingAndGlyphs" >a</text>
</g>
<g id="panel_b">
<polyline points="1325.4,307.0 1325.9,306.5 1326.6,305.9 1327.4,305.2 1328.3,304.3 1329.2,303.5 1330.3,302.5 1331.4,301.6 1332.5,300.7 1333.6,299.8 1334.9,298.9 1336.2,297.9 1337.6,296.9 1338.9,295.9 1340.3,294.9 1341.7,293.9 1343.1,293.1 1344.4,292.3 1345.6,291.5 1346.9,290.8 1348.2,290.1 1349.4,289.5 1350.8,288.8 1352.2,288.2 1353.7,287.5 1355.3,286.9 1356.9,286.2 1358.6,285.6 1360.3,285.0 1362.1,284.4 1364.0,283.8 1365.9,283.2 1367.8,282.6 1369.8,282.1 1371.7,281.6 1373.7,281.1 1375.8,280.6 1377.9,280.2 1380.2,279.6 1382.8,279.1 1385.5,278.5 1388.5,277.8 1391.9,277.0 1395.5,276.3 1399.2,275.5 1403.0,274.6 1406.7,273.8 1410.3,273.0 1413.8,272.2 1417.0,271.4 1420.1,270.7 1423.2,269.9 1426.1,269.1 1429.1,268.3 1432.2,267.6 1435.3,266.8 1438.5,265.9 1442.0,265.1 1445.6,264.2 1449.3,263.2 1453.1,262.3 1456.8,261.4 1460.4,260.5 1463.7,259.7 1466.8,259.0 1469.5,258.4 1472.0,257.9 1474.2,257.4 1476.3,257.0 1478.3,256.6 1480.3,256.3 1482.3,255.9 1484.5,255.5 1486.7,255.1 1488.9,254.7 1491.1,254.3 1493.3,253.9 1495.5,253.5 1497.7,253.0 1499.9,252.6 1502.2,252.0 1504.4,251.4 1506.6,250.8 1508.8,250.1 1511.0,249.4 1513.2,248.7 1515.4,247.9 1517.6,247.2 1519.8,246.4 1522.0,245.7 1524.2,245.0 1526.5,244.2 1528.7,243.5 1530.9,242.7 1533.1,241.9 1535.3,241.1 1537.5,240.2 1539.7,239.2 1541.9,238.3 1544.1,237.3 1546.3,236.2 1548.5,235.2 1550.8,234.1 1553.0,233.0 1555.2,231.8 1557.4,230.7 1559.6,229.6 1561.8,228.4 1564.0,227.2 1566.2,226.0 1568.4,224.8 1570.6,223.4 1572.9,222.1 1575.1,220.7 1577.3,219.2 1579.5,217.8 1581.7,216.3 1583.9,214.7 1586.1,213.1 1588.3,211.3 1590.5,209.6 1592.7,207.7 1594.9,205.8 1597.2,203.9 1599.4,201.9 1601.6,199.8 1603.8,197.6 1606.0,195.3 1608.2,192.9 1610.4,190.3 1612.6,187.6 1614.8,184.7 1617.0,181.8 1619.2,178.8 1621.5,175.7 1623.7,172.5 1625.9,169.2 1628.1,165.8 1630.4,162.2 1632.7,158.5 1634.9,154.7 1637.2,151.0 1639.4,147.2 1641.5,143.5 1643.6,140.0 1645.5,136.5 1647.4,133.1 1649.2,129.8 1651.0,126.5 1652.7,123.2 1654.4,120.0 1656.0,116.7 1657.7,113.5 1659.4,110.1 1661.2,106.6 1663.0,102.9 1664.8,99.3 1666.4,96.0 1667.9,92.9 1669.1,90.4 1670.1,88.5 1671.5,88.5 1671.5,307.0" fill="none" stroke="#000" stroke-width="2.7" stroke-linejoin="round"/>
<polyline points="1326.8,307.0 1328.2,290.3 1330.3,276.4 1333.2,271.5 1339.5,272.2 1350.1,272.9 1360.8,272.9 1369.6,274.3 1382.0,273.6 1396.1,271.5 1413.8,268.7 1431.5,265.2 1449.1,261.8 1466.8,258.3 1484.5,254.8 1502.2,249.9 1512.8,244.4 1523.4,237.4 1534.0,230.4 1544.6,224.2 1553.4,220.0 1559.4,213.7 1560.8,211.6 1561.5,216.5 1561.5,307.0" fill="none" stroke="#f00" stroke-width="2.7" stroke-linejoin="round"/>
<polyline points="1325.8,307.0 1326.5,286.1 1327.5,272.2 1329.6,268.0 1346.6,268.0 1360.8,267.3 1378.4,265.9 1396.1,264.5 1413.8,263.2 1431.5,261.1 1445.6,259.0 1456.2,256.2 1459.7,255.5 1461.5,256.9 1461.5,307.0" fill="none" stroke="#00f" stroke-width="3" stroke-linejoin="round"/>
<rect x="1323.8" y="27.8" width="379.0" height="279.2" fill="none" stroke="#000" stroke-width="3" />
<line x1="1413.8" y1="307.0" x2="1413.8" y2="301.0" stroke="#000" stroke-width="2.5" />
<line x1="1502.2" y1="307.0" x2="1502.2" y2="301.0" stroke="#000" stroke-width="2.5" />
<line x1="1590.5" y1="307.0" x2="1590.5" y2="301.0" stroke="#000" stroke-width="2.5" />
<line x1="1678.9" y1="307.0" x2="1678.9" y2="301.0" stroke="#000" stroke-width="2.5" />
<line x1="1323.8" y1="237.4" x2="1329.8" y2="237.4" stroke="#000" stroke-width="2.5" />
<line x1="1323.8" y1="167.8" x2="1329.8" y2="167.8" stroke="#000" stroke-width="2.5" />
<line x1="1323.8" y1="98.2" x2="1329.8" y2="98.2" stroke="#000" stroke-width="2.5" />
<text x="1318.5" y="335.6" font-size="24.5" fill="#000" font-weight="700" stroke="#000" stroke-linejoin="round" stroke-width="0.5" textLength="13.3" lengthAdjust="spacingAndGlyphs" >0</text>
<text x="1391.5" y="335.6" font-size="24.5" fill="#000" font-weight="700" stroke="#000" stroke-linejoin="round" stroke-width="0.5" textLength="44.0" lengthAdjust="spacingAndGlyphs" >250</text>
<text x="1480.0" y="335.6" font-size="24.5" fill="#000" font-weight="700" stroke="#000" stroke-linejoin="round" stroke-width="0.5" textLength="44.5" lengthAdjust="spacingAndGlyphs" >500</text>
<text x="1568.5" y="335.6" font-size="24.5" fill="#000" font-weight="700" stroke="#000" stroke-linejoin="round" stroke-width="0.5" textLength="44.0" lengthAdjust="spacingAndGlyphs" >750</text>
<text x="1650.0" y="335.6" font-size="24.5" fill="#000" font-weight="700" stroke="#000" stroke-linejoin="round" stroke-width="0.5" textLength="55.3" lengthAdjust="spacingAndGlyphs" >1000</text>
<text x="1302.0" y="315.5" font-size="24.5" fill="#000" font-weight="700" stroke="#000" stroke-linejoin="round" stroke-width="0.5" textLength="14.0" lengthAdjust="spacingAndGlyphs" >0</text>
<text x="1302.0" y="245.5" font-size="24.5" fill="#000" font-weight="700" stroke="#000" stroke-linejoin="round" stroke-width="0.5" textLength="14.0" lengthAdjust="spacingAndGlyphs" >5</text>
<text x="1287.0" y="175.5" font-size="24.5" fill="#000" font-weight="700" stroke="#000" stroke-linejoin="round" stroke-width="0.5" textLength="29.0" lengthAdjust="spacingAndGlyphs" >10</text>
<text x="1287.0" y="104.6" font-size="24.5" fill="#000" font-weight="700" stroke="#000" stroke-linejoin="round" stroke-width="0.5" textLength="29.0" lengthAdjust="spacingAndGlyphs" >15</text>
<text x="1286.0" y="36.0" font-size="24.5" fill="#000" font-weight="700" stroke="#000" stroke-linejoin="round" stroke-width="0.5" textLength="29.0" lengthAdjust="spacingAndGlyphs" >20</text>
<text x="1454.0" y="363.8" font-size="26" fill="#000" font-weight="700" stroke="#000" stroke-linejoin="round" stroke-width="0.5" textLength="127.0" lengthAdjust="spacingAndGlyphs" >Strain (%)</text>
<text x="0" y="0" font-size="26" fill="#000" text-anchor="middle" font-weight="700" stroke="#000" stroke-width="0.5" stroke-linejoin="round" textLength="166.0" lengthAdjust="spacingAndGlyphs" transform="translate(1273.0 177.0) rotate(-90)" >Stress (MPa)</text>
<line x1="1338.5" y1="46.8" x2="1368.5" y2="46.8" stroke="#000" stroke-width="4" />
<text x="1374.2" y="56.4" font-size="26" fill="#000" font-weight="700" stroke="#000" stroke-linejoin="round" stroke-width="0.5" textLength="94.5" lengthAdjust="spacingAndGlyphs" >CAP/P0</text>
<line x1="1338.5" y1="72.0" x2="1368.5" y2="72.0" stroke="#f00" stroke-width="4" />
<text x="1374.2" y="81.6" font-size="26" fill="#f00" font-weight="700" stroke="#f00" stroke-linejoin="round" stroke-width="0.5" textLength="109.0" lengthAdjust="spacingAndGlyphs" >CAP/P20</text>
<line x1="1338.5" y1="97.2" x2="1368.5" y2="97.2" stroke="#00f" stroke-width="4" />
<text x="1374.2" y="106.8" font-size="26" fill="#00f" font-weight="700" stroke="#00f" stroke-linejoin="round" stroke-width="0.5" textLength="109.0" lengthAdjust="spacingAndGlyphs" >CAP/P40</text>
<text x="1238.5" y="35.0" font-size="36" fill="#000" font-weight="700" stroke="#000" stroke-linejoin="round" stroke-width="0.5" textLength="19.5" lengthAdjust="spacingAndGlyphs" >b</text>
</g>
<g id="panel_c">
<clipPath id="cclip"><rect x="99.4" y="418.2" width="774.4" height="262.0"/></clipPath>
<path d="M108 584.2 H801 V565 L836 605 L801 645 V625.6 H108 Z" fill="url(#cg)"/>
<g clip-path="url(#cclip)">
<line x1="99.0" y1="671.3" x2="127.1" y2="671.3" stroke="#1a1a1a" stroke-width="2" />
<polyline points="122.4,671.3 126.5,663.2 128.5,646.9 130.0,622.5 131.0,526.4 132.0,478.4 132.3,410.8" fill="none" stroke="#1a1a1a" stroke-width="2.6" stroke-linejoin="round"/>
<circle cx="104.8" cy="671.3" r="4.8" fill="#fff" stroke="#1a1a1a" stroke-width="3.3" />
<circle cx="111.9" cy="671.3" r="4.8" fill="#fff" stroke="#1a1a1a" stroke-width="3.3" />
<circle cx="118.9" cy="671.3" r="4.8" fill="#fff" stroke="#1a1a1a" stroke-width="3.3" />
<circle cx="125.9" cy="671.3" r="4.8" fill="#fff" stroke="#1a1a1a" stroke-width="3.3" />
<circle cx="126.0" cy="664.0" r="5.2" fill="none" stroke="#1a1a1a" stroke-width="3.3" />
<circle cx="128.5" cy="646.9" r="5.2" fill="none" stroke="#1a1a1a" stroke-width="3.3" />
<circle cx="129.3" cy="526.4" r="5.2" fill="none" stroke="#1a1a1a" stroke-width="3.3" />
<circle cx="130.2" cy="478.4" r="5.2" fill="none" stroke="#1a1a1a" stroke-width="3.3" />
<line x1="99.0" y1="671.3" x2="239.4" y2="671.3" stroke="#f01818" stroke-width="2" />
<polyline points="238.2,671.3 239.3,659.1 239.5,589.9 240.5,557.3 240.6,427.1 240.6,410.8" fill="none" stroke="#f01818" stroke-width="2.6" stroke-linejoin="round"/>
<circle cx="108.6" cy="671.3" r="4.8" fill="#fff" stroke="#f01818" stroke-width="3.3" />
<circle cx="122.3" cy="671.3" r="4.8" fill="#fff" stroke="#f01818" stroke-width="3.3" />
<circle cx="136.0" cy="671.3" r="4.8" fill="#fff" stroke="#f01818" stroke-width="3.3" />
<circle cx="149.7" cy="671.3" r="4.8" fill="#fff" stroke="#f01818" stroke-width="3.3" />
<circle cx="163.3" cy="671.3" r="4.8" fill="#fff" stroke="#f01818" stroke-width="3.3" />
<circle cx="177.0" cy="671.3" r="4.8" fill="#fff" stroke="#f01818" stroke-width="3.3" />
<circle cx="190.7" cy="671.3" r="4.8" fill="#fff" stroke="#f01818" stroke-width="3.3" />
<circle cx="204.4" cy="671.3" r="4.8" fill="#fff" stroke="#f01818" stroke-width="3.3" />
<circle cx="218.1" cy="671.3" r="4.8" fill="#fff" stroke="#f01818" stroke-width="3.3" />
<circle cx="231.8" cy="671.3" r="4.8" fill="#fff" stroke="#f01818" stroke-width="3.3" />
<circle cx="241.5" cy="659.1" r="5.2" fill="none" stroke="#f01818" stroke-width="3.3" />
<circle cx="243.6" cy="587.5" r="5.2" fill="none" stroke="#f01818" stroke-width="3.3" />
<circle cx="243.6" cy="427.1" r="5.2" fill="none" stroke="#f01818" stroke-width="3.3" />
<line x1="99.0" y1="671.3" x2="679.3" y2="671.3" stroke="#ff20e8" stroke-width="2" />
<polyline points="674.6,671.3 679.0,658.3 680.5,622.5 681.5,578.5 682.5,484.1 682.8,410.8" fill="none" stroke="#ff20e8" stroke-width="2.6" stroke-linejoin="round"/>
<circle cx="101.8" cy="671.3" r="4.8" fill="#fff" stroke="#ff20e8" stroke-width="3.3" />
<circle cx="115.5" cy="671.3" r="4.8" fill="#fff" stroke="#ff20e8" stroke-width="3.3" />
<circle cx="129.2" cy="671.3" r="4.8" fill="#fff" stroke="#ff20e8" stroke-width="3.3" />
<circle cx="142.9" cy="671.3" r="4.8" fill="#fff" stroke="#ff20e8" stroke-width="3.3" />
<circle cx="156.6" cy="671.3" r="4.8" fill="#fff" stroke="#ff20e8" stroke-width="3.3" />
<circle cx="170.3" cy="671.3" r="4.8" fill="#fff" stroke="#ff20e8" stroke-width="3.3" />
<circle cx="183.9" cy="671.3" r="4.8" fill="#fff" stroke="#ff20e8" stroke-width="3.3" />
<circle cx="197.6" cy="671.3" r="4.8" fill="#fff" stroke="#ff20e8" stroke-width="3.3" />
<circle cx="211.3" cy="671.3" r="4.8" fill="#fff" stroke="#ff20e8" stroke-width="3.3" />
<circle cx="225.0" cy="671.3" r="4.8" fill="#fff" stroke="#ff20e8" stroke-width="3.3" />
<circle cx="238.7" cy="671.3" r="4.8" fill="#fff" stroke="#ff20e8" stroke-width="3.3" />
<circle cx="252.4" cy="671.3" r="4.8" fill="#fff" stroke="#ff20e8" stroke-width="3.3" />
<circle cx="266.1" cy="671.3" r="4.8" fill="#fff" stroke="#ff20e8" stroke-width="3.3" />
<circle cx="279.8" cy="671.3" r="4.8" fill="#fff" stroke="#ff20e8" stroke-width="3.3" />
<circle cx="293.5" cy="671.3" r="4.8" fill="#fff" stroke="#ff20e8" stroke-width="3.3" />
<circle cx="307.1" cy="671.3" r="4.8" fill="#fff" stroke="#ff20e8" stroke-width="3.3" />
<circle cx="320.8" cy="671.3" r="4.8" fill="#fff" stroke="#ff20e8" stroke-width="3.3" />
<circle cx="334.5" cy="671.3" r="4.8" fill="#fff" stroke="#ff20e8" stroke-width="3.3" />
<circle cx="348.2" cy="671.3" r="4.8" fill="#fff" stroke="#ff20e8" stroke-width="3.3" />
<circle cx="361.9" cy="671.3" r="4.8" fill="#fff" stroke="#ff20e8" stroke-width="3.3" />
<circle cx="375.6" cy="671.3" r="4.8" fill="#fff" stroke="#ff20e8" stroke-width="3.3" />
<circle cx="389.3" cy="671.3" r="4.8" fill="#fff" stroke="#ff20e8" stroke-width="3.3" />
<circle cx="403.0" cy="671.3" r="4.8" fill="#fff" stroke="#ff20e8" stroke-width="3.3" />
<circle cx="416.7" cy="671.3" r="4.8" fill="#fff" stroke="#ff20e8" stroke-width="3.3" />
<circle cx="430.3" cy="671.3" r="4.8" fill="#fff" stroke="#ff20e8" stroke-width="3.3" />
<circle cx="444.0" cy="671.3" r="4.8" fill="#fff" stroke="#ff20e8" stroke-width="3.3" />
<circle cx="457.7" cy="671.3" r="4.8" fill="#fff" stroke="#ff20e8" stroke-width="3.3" />
<circle cx="471.4" cy="671.3" r="4.8" fill="#fff" stroke="#ff20e8" stroke-width="3.3" />
<circle cx="485.1" cy="671.3" r="4.8" fill="#fff" stroke="#ff20e8" stroke-width="3.3" />
<circle cx="498.8" cy="671.3" r="4.8" fill="#fff" stroke="#ff20e8" stroke-width="3.3" />
<circle cx="512.5" cy="671.3" r="4.8" fill="#fff" stroke="#ff20e8" stroke-width="3.3" />
<circle cx="526.2" cy="671.3" r="4.8" fill="#fff" stroke="#ff20e8" stroke-width="3.3" />
<circle cx="539.9" cy="671.3" r="4.8" fill="#fff" stroke="#ff20e8" stroke-width="3.3" />
<circle cx="553.5" cy="671.3" r="4.8" fill="#fff" stroke="#ff20e8" stroke-width="3.3" />
<circle cx="573.7" cy="671.3" r="4.8" fill="#fff" stroke="#ff20e8" stroke-width="3.3" />
<circle cx="589.4" cy="671.3" r="4.8" fill="#fff" stroke="#ff20e8" stroke-width="3.3" />
<circle cx="605.1" cy="671.3" r="4.8" fill="#fff" stroke="#ff20e8" stroke-width="3.3" />
<circle cx="620.9" cy="671.3" r="4.8" fill="#fff" stroke="#ff20e8" stroke-width="3.3" />
<circle cx="636.6" cy="671.3" r="4.8" fill="#fff" stroke="#ff20e8" stroke-width="3.3" />
<circle cx="652.3" cy="671.3" r="4.8" fill="#fff" stroke="#ff20e8" stroke-width="3.3" />
<circle cx="668.0" cy="671.3" r="4.8" fill="#fff" stroke="#ff20e8" stroke-width="3.3" />
<circle cx="680.5" cy="658.3" r="5.2" fill="none" stroke="#ff20e8" stroke-width="3.3" />
<circle cx="681.7" cy="578.5" r="5.2" fill="none" stroke="#ff20e8" stroke-width="3.3" />
<circle cx="682.6" cy="427.1" r="5.2" fill="none" stroke="#ff20e8" stroke-width="3.3" />
<line x1="99.0" y1="671.3" x2="705.1" y2="671.3" stroke="#1414e6" stroke-width="2" />
<polyline points="703.9,671.3 704.0,642.8 705.5,589.9 706.3,467.8 706.3,410.8" fill="none" stroke="#1414e6" stroke-width="2.6" stroke-linejoin="round"/>
<circle cx="101.8" cy="671.3" r="4.8" fill="#fff" stroke="#1414e6" stroke-width="3.3" />
<circle cx="115.5" cy="671.3" r="4.8" fill="#fff" stroke="#1414e6" stroke-width="3.3" />
<circle cx="129.2" cy="671.3" r="4.8" fill="#fff" stroke="#1414e6" stroke-width="3.3" />
<circle cx="142.9" cy="671.3" r="4.8" fill="#fff" stroke="#1414e6" stroke-width="3.3" />
<circle cx="156.6" cy="671.3" r="4.8" fill="#fff" stroke="#1414e6" stroke-width="3.3" />
<circle cx="170.3" cy="671.3" r="4.8" fill="#fff" stroke="#1414e6" stroke-width="3.3" />
<circle cx="183.9" cy="671.3" r="4.8" fill="#fff" stroke="#1414e6" stroke-width="3.3" />
<circle cx="197.6" cy="671.3" r="4.8" fill="#fff" stroke="#1414e6" stroke-width="3.3" />
<circle cx="211.3" cy="671.3" r="4.8" fill="#fff" stroke="#1414e6" stroke-width="3.3" />
<circle cx="225.0" cy="671.3" r="4.8" fill="#fff" stroke="#1414e6" stroke-width="3.3" />
<circle cx="238.7" cy="671.3" r="4.8" fill="#fff" stroke="#1414e6" stroke-width="3.3" />
<circle cx="252.4" cy="671.3" r="4.8" fill="#fff" stroke="#1414e6" stroke-width="3.3" />
<circle cx="266.1" cy="671.3" r="4.8" fill="#fff" stroke="#1414e6" stroke-width="3.3" />
<circle cx="279.8" cy="671.3" r="4.8" fill="#fff" stroke="#1414e6" stroke-width="3.3" />
<circle cx="293.5" cy="671.3" r="4.8" fill="#fff" stroke="#1414e6" stroke-width="3.3" />
<circle cx="307.1" cy="671.3" r="4.8" fill="#fff" stroke="#1414e6" stroke-width="3.3" />
<circle cx="320.8" cy="671.3" r="4.8" fill="#fff" stroke="#1414e6" stroke-width="3.3" />
<circle cx="334.5" cy="671.3" r="4.8" fill="#fff" stroke="#1414e6" stroke-width="3.3" />
<circle cx="348.2" cy="671.3" r="4.8" fill="#fff" stroke="#1414e6" stroke-width="3.3" />
<circle cx="361.9" cy="671.3" r="4.8" fill="#fff" stroke="#1414e6" stroke-width="3.3" />
<circle cx="375.6" cy="671.3" r="4.8" fill="#fff" stroke="#1414e6" stroke-width="3.3" />
<circle cx="389.3" cy="671.3" r="4.8" fill="#fff" stroke="#1414e6" stroke-width="3.3" />
<circle cx="403.0" cy="671.3" r="4.8" fill="#fff" stroke="#1414e6" stroke-width="3.3" />
<circle cx="416.7" cy="671.3" r="4.8" fill="#fff" stroke="#1414e6" stroke-width="3.3" />
<circle cx="430.3" cy="671.3" r="4.8" fill="#fff" stroke="#1414e6" stroke-width="3.3" />
<circle cx="444.0" cy="671.3" r="4.8" fill="#fff" stroke="#1414e6" stroke-width="3.3" />
<circle cx="457.7" cy="671.3" r="4.8" fill="#fff" stroke="#1414e6" stroke-width="3.3" />
<circle cx="471.4" cy="671.3" r="4.8" fill="#fff" stroke="#1414e6" stroke-width="3.3" />
<circle cx="485.1" cy="671.3" r="4.8" fill="#fff" stroke="#1414e6" stroke-width="3.3" />
<circle cx="498.8" cy="671.3" r="4.8" fill="#fff" stroke="#1414e6" stroke-width="3.3" />
<circle cx="512.5" cy="671.3" r="4.8" fill="#fff" stroke="#1414e6" stroke-width="3.3" />
<circle cx="526.2" cy="671.3" r="4.8" fill="#fff" stroke="#1414e6" stroke-width="3.3" />
<circle cx="539.9" cy="671.3" r="4.8" fill="#fff" stroke="#1414e6" stroke-width="3.3" />
<circle cx="553.5" cy="671.3" r="4.8" fill="#fff" stroke="#1414e6" stroke-width="3.3" />
<circle cx="565.8" cy="671.3" r="4.8" fill="#fff" stroke="#1414e6" stroke-width="3.3" />
<circle cx="581.6" cy="671.3" r="4.8" fill="#fff" stroke="#1414e6" stroke-width="3.3" />
<circle cx="597.3" cy="671.3" r="4.8" fill="#fff" stroke="#1414e6" stroke-width="3.3" />
<circle cx="613.0" cy="671.3" r="4.8" fill="#fff" stroke="#1414e6" stroke-width="3.3" />
<circle cx="628.7" cy="671.3" r="4.8" fill="#fff" stroke="#1414e6" stroke-width="3.3" />
<circle cx="644.5" cy="671.3" r="4.8" fill="#fff" stroke="#1414e6" stroke-width="3.3" />
<circle cx="660.2" cy="671.3" r="4.8" fill="#fff" stroke="#1414e6" stroke-width="3.3" />
<circle cx="675.9" cy="671.3" r="4.8" fill="#fff" stroke="#1414e6" stroke-width="3.3" />
<circle cx="691.6" cy="671.3" r="4.8" fill="#fff" stroke="#1414e6" stroke-width="3.3" />
<circle cx="704.3" cy="642.8" r="5.2" fill="none" stroke="#1414e6" stroke-width="3.3" />
<circle cx="705.5" cy="589.9" r="5.2" fill="none" stroke="#1414e6" stroke-width="3.3" />
<circle cx="706.7" cy="467.8" r="5.2" fill="none" stroke="#1414e6" stroke-width="3.3" />
<line x1="99.0" y1="671.3" x2="836.1" y2="671.3" stroke="#0a8a2a" stroke-width="2" />
<circle cx="101.8" cy="671.9" r="5.0" fill="#f4fbf4" stroke="#0c8c2c" stroke-width="3.6" />
<circle cx="115.5" cy="671.9" r="5.0" fill="#f4fbf4" stroke="#0c8c2c" stroke-width="3.6" />
<circle cx="129.2" cy="671.9" r="5.0" fill="#f4fbf4" stroke="#0c8c2c" stroke-width="3.6" />
<circle cx="142.9" cy="671.9" r="5.0" fill="#f4fbf4" stroke="#0c8c2c" stroke-width="3.6" />
<circle cx="156.6" cy="671.9" r="5.0" fill="#f4fbf4" stroke="#0c8c2c" stroke-width="3.6" />
<circle cx="170.3" cy="671.9" r="5.0" fill="#f4fbf4" stroke="#0c8c2c" stroke-width="3.6" />
<circle cx="183.9" cy="671.9" r="5.0" fill="#f4fbf4" stroke="#0c8c2c" stroke-width="3.6" />
<circle cx="197.6" cy="671.9" r="5.0" fill="#f4fbf4" stroke="#0c8c2c" stroke-width="3.6" />
<circle cx="211.3" cy="671.9" r="5.0" fill="#f4fbf4" stroke="#0c8c2c" stroke-width="3.6" />
<circle cx="225.0" cy="671.9" r="5.0" fill="#f4fbf4" stroke="#0c8c2c" stroke-width="3.6" />
<circle cx="238.7" cy="671.9" r="5.0" fill="#f4fbf4" stroke="#0c8c2c" stroke-width="3.6" />
<circle cx="252.4" cy="671.9" r="5.0" fill="#f4fbf4" stroke="#0c8c2c" stroke-width="3.6" />
<circle cx="266.1" cy="671.9" r="5.0" fill="#f4fbf4" stroke="#0c8c2c" stroke-width="3.6" />
<circle cx="279.8" cy="671.9" r="5.0" fill="#f4fbf4" stroke="#0c8c2c" stroke-width="3.6" />
<circle cx="293.5" cy="671.9" r="5.0" fill="#f4fbf4" stroke="#0c8c2c" stroke-width="3.6" />
<circle cx="307.1" cy="671.9" r="5.0" fill="#f4fbf4" stroke="#0c8c2c" stroke-width="3.6" />
<circle cx="320.8" cy="671.9" r="5.0" fill="#f4fbf4" stroke="#0c8c2c" stroke-width="3.6" />
<circle cx="334.5" cy="671.9" r="5.0" fill="#f4fbf4" stroke="#0c8c2c" stroke-width="3.6" />
<circle cx="348.2" cy="671.9" r="5.0" fill="#f4fbf4" stroke="#0c8c2c" stroke-width="3.6" />
<circle cx="361.9" cy="671.9" r="5.0" fill="#f4fbf4" stroke="#0c8c2c" stroke-width="3.6" />
<circle cx="375.6" cy="671.9" r="5.0" fill="#f4fbf4" stroke="#0c8c2c" stroke-width="3.6" />
<circle cx="389.3" cy="671.9" r="5.0" fill="#f4fbf4" stroke="#0c8c2c" stroke-width="3.6" />
<circle cx="403.0" cy="671.9" r="5.0" fill="#f4fbf4" stroke="#0c8c2c" stroke-width="3.6" />
<circle cx="416.7" cy="671.9" r="5.0" fill="#f4fbf4" stroke="#0c8c2c" stroke-width="3.6" />
<circle cx="430.3" cy="671.9" r="5.0" fill="#f4fbf4" stroke="#0c8c2c" stroke-width="3.6" />
<circle cx="444.0" cy="671.9" r="5.0" fill="#f4fbf4" stroke="#0c8c2c" stroke-width="3.6" />
<circle cx="457.7" cy="671.9" r="5.0" fill="#f4fbf4" stroke="#0c8c2c" stroke-width="3.6" />
<circle cx="471.4" cy="671.9" r="5.0" fill="#f4fbf4" stroke="#0c8c2c" stroke-width="3.6" />
<circle cx="485.1" cy="671.9" r="5.0" fill="#f4fbf4" stroke="#0c8c2c" stroke-width="3.6" />
<circle cx="498.8" cy="671.9" r="5.0" fill="#f4fbf4" stroke="#0c8c2c" stroke-width="3.6" />
<circle cx="512.5" cy="671.9" r="5.0" fill="#f4fbf4" stroke="#0c8c2c" stroke-width="3.6" />
<circle cx="526.2" cy="671.9" r="5.0" fill="#f4fbf4" stroke="#0c8c2c" stroke-width="3.6" />
<circle cx="539.9" cy="671.9" r="5.0" fill="#f4fbf4" stroke="#0c8c2c" stroke-width="3.6" />
<circle cx="553.5" cy="671.9" r="5.0" fill="#f4fbf4" stroke="#0c8c2c" stroke-width="3.6" />
<circle cx="565.8" cy="671.9" r="5.0" fill="#f4fbf4" stroke="#0c8c2c" stroke-width="3.6" />
<circle cx="581.6" cy="671.9" r="5.0" fill="#f4fbf4" stroke="#0c8c2c" stroke-width="3.6" />
<circle cx="597.3" cy="671.9" r="5.0" fill="#f4fbf4" stroke="#0c8c2c" stroke-width="3.6" />
<circle cx="613.0" cy="671.9" r="5.0" fill="#f4fbf4" stroke="#0c8c2c" stroke-width="3.6" />
<circle cx="628.7" cy="671.9" r="5.0" fill="#f4fbf4" stroke="#0c8c2c" stroke-width="3.6" />
<circle cx="644.5" cy="671.9" r="5.0" fill="#f4fbf4" stroke="#0c8c2c" stroke-width="3.6" />
<circle cx="660.2" cy="671.9" r="5.0" fill="#f4fbf4" stroke="#0c8c2c" stroke-width="3.6" />
<circle cx="675.9" cy="671.9" r="5.0" fill="#f4fbf4" stroke="#0c8c2c" stroke-width="3.6" />
<circle cx="691.6" cy="671.9" r="5.0" fill="#f4fbf4" stroke="#0c8c2c" stroke-width="3.6" />
<circle cx="707.4" cy="671.9" r="5.0" fill="#f4fbf4" stroke="#0c8c2c" stroke-width="3.6" />
<circle cx="723.1" cy="671.9" r="5.0" fill="#f4fbf4" stroke="#0c8c2c" stroke-width="3.6" />
<circle cx="738.8" cy="671.9" r="5.0" fill="#f4fbf4" stroke="#0c8c2c" stroke-width="3.6" />
<circle cx="754.5" cy="671.9" r="5.0" fill="#f4fbf4" stroke="#0c8c2c" stroke-width="3.6" />
<circle cx="770.3" cy="671.9" r="5.0" fill="#f4fbf4" stroke="#0c8c2c" stroke-width="3.6" />
<circle cx="786.0" cy="671.9" r="5.0" fill="#f4fbf4" stroke="#0c8c2c" stroke-width="3.6" />
<circle cx="801.7" cy="671.9" r="5.0" fill="#f4fbf4" stroke="#0c8c2c" stroke-width="3.6" />
<circle cx="817.4" cy="671.9" r="5.0" fill="#f4fbf4" stroke="#0c8c2c" stroke-width="3.6" />
<circle cx="833.2" cy="671.9" r="5.0" fill="#f4fbf4" stroke="#0c8c2c" stroke-width="3.6" />
<circle cx="836.1" cy="671.9" r="5.0" fill="#f4fbf4" stroke="#0c8c2c" stroke-width="3.6" />
<polyline points="836.0,671.3 837.5,653.4 838.5,609.4 840.5,557.3 840.8,512.6 842.0,459.7 842.3,423.0" fill="none" stroke="#0c8c2c" stroke-width="3.1" stroke-linejoin="round"/>
<circle cx="837.3" cy="653.4" r="5.2" fill="none" stroke="#0c8c2c" stroke-width="3.4" />
<circle cx="838.8" cy="609.4" r="5.2" fill="none" stroke="#0c8c2c" stroke-width="3.4" />
<circle cx="840.3" cy="512.6" r="5.2" fill="none" stroke="#0c8c2c" stroke-width="3.4" />
<circle cx="842.0" cy="425.9" r="5.2" fill="none" stroke="#0c8c2c" stroke-width="3.4" />
</g>
<path d="M108 584.2 H801 V565 L836 605 L801 645 V625.6 H108 Z" fill="url(#cg)" opacity="0.55"/>
<rect x="99.4" y="418.2" width="774.4" height="262.0" fill="none" stroke="#000" stroke-width="3.2" />
<line x1="99.4" y1="589.9" x2="105.4" y2="589.9" stroke="#000" stroke-width="2.4" />
<line x1="99.4" y1="508.5" x2="105.4" y2="508.5" stroke="#000" stroke-width="2.4" />
<line x1="99.4" y1="427.1" x2="105.4" y2="427.1" stroke="#000" stroke-width="2.4" />
<text x="76.8" y="680.5" font-size="25.5" fill="#000" font-weight="700" stroke="#000" stroke-linejoin="round" stroke-width="0.5" textLength="13.0" lengthAdjust="spacingAndGlyphs" >0</text>
<text x="63.4" y="598.0" font-size="25.5" fill="#000" font-weight="700" stroke="#000" stroke-linejoin="round" stroke-width="0.5" textLength="26.4" lengthAdjust="spacingAndGlyphs" >10</text>
<text x="63.4" y="515.4" font-size="25.5" fill="#000" font-weight="700" stroke="#000" stroke-linejoin="round" stroke-width="0.5" textLength="26.4" lengthAdjust="spacingAndGlyphs" >20</text>
<text x="63.4" y="433.0" font-size="25.5" fill="#000" font-weight="700" stroke="#000" stroke-linejoin="round" stroke-width="0.5" textLength="26.4" lengthAdjust="spacingAndGlyphs" >30</text>
<text x="92.0" y="705.6" font-size="25" fill="#000" font-weight="700" stroke="#000" stroke-linejoin="round" stroke-width="0.5" textLength="13.0" lengthAdjust="spacingAndGlyphs" >0</text>
<text x="319.3" y="705.6" font-size="25" fill="#000" font-weight="700" stroke="#000" stroke-linejoin="round" stroke-width="0.5" textLength="26.4" lengthAdjust="spacingAndGlyphs" >10</text>
<text x="553.3" y="705.6" font-size="25" fill="#000" font-weight="700" stroke="#000" stroke-linejoin="round" stroke-width="0.5" textLength="26.4" lengthAdjust="spacingAndGlyphs" >20</text>
<text x="787.3" y="705.6" font-size="25" fill="#000" font-weight="700" stroke="#000" stroke-linejoin="round" stroke-width="0.5" textLength="26.4" lengthAdjust="spacingAndGlyphs" >30</text>
<text x="427.0" y="730.0" font-size="25.5" fill="#000" font-weight="700" stroke="#000" stroke-linejoin="round" stroke-width="0.5" textLength="122.5" lengthAdjust="spacingAndGlyphs" >Time (day)</text>
<text x="0" y="0" font-size="26" fill="#000" text-anchor="middle" font-weight="700" stroke="#000" stroke-width="0.5" stroke-linejoin="round" textLength="193.0" lengthAdjust="spacingAndGlyphs" transform="translate(51.5 544.3) rotate(-90)" >Resistance (kΩ)</text>
<text x="356.5" y="616.6" font-size="25.5" fill="#fff" font-weight="700" stroke="#fff" stroke-linejoin="round" stroke-width="0.5" textLength="224.0" lengthAdjust="spacingAndGlyphs" >~2000 % extension</text>
<circle cx="342.0" cy="452.3" r="5.2" fill="none" stroke="#1a1a1a" stroke-width="3.6" />
<text x="353.2" y="460.2" font-size="24" fill="#1a1a1a" font-weight="700" stroke="#1a1a1a" stroke-linejoin="round" stroke-width="0.5" textLength="159.6" lengthAdjust="spacingAndGlyphs" >Pristine PLCL</text>
<circle cx="342.0" cy="476.2" r="5.2" fill="none" stroke="#f01818" stroke-width="3.6" />
<text x="353.2" y="484.1" font-size="24" fill="#f01818" font-weight="700" stroke="#f01818" stroke-linejoin="round" stroke-width="0.5" textLength="221.6" lengthAdjust="spacingAndGlyphs" >CAP/P0 (pillar only)</text>
<circle cx="342.0" cy="500.2" r="5.2" fill="none" stroke="#1414e6" stroke-width="3.6" />
<text x="353.2" y="508.1" font-size="24" fill="#1414e6" font-weight="700" stroke="#1414e6" stroke-linejoin="round" stroke-width="0.5" textLength="212.6" lengthAdjust="spacingAndGlyphs" >CAP/P40 (no pillar)</text>
<circle cx="342.0" cy="524.1" r="5.2" fill="none" stroke="#0c8c2c" stroke-width="3.6" />
<text x="353.2" y="532.0" font-size="24" fill="#0c8c2c" font-weight="700" stroke="#0c8c2c" stroke-linejoin="round" stroke-width="0.5" textLength="101.6" lengthAdjust="spacingAndGlyphs" >CAP/P40</text>
<circle cx="342.0" cy="548.1" r="5.2" fill="none" stroke="#ff20e8" stroke-width="3.6" />
<text x="353.2" y="556.0" font-size="24" fill="#ff20e8" font-weight="700" stroke="#ff20e8" stroke-linejoin="round" stroke-width="0.5" textLength="101.6" lengthAdjust="spacingAndGlyphs" >CAP/S40</text>
<text x="12.2" y="434.4" font-size="34" fill="#000" font-weight="700" stroke="#000" stroke-linejoin="round" stroke-width="0.5" textLength="19.3" lengthAdjust="spacingAndGlyphs" >c</text>
</g>
<g id="panel_d">
<g clip-path="url(#dc1)">
<rect x="949.0" y="417.0" width="252.0" height="313.0" fill="url(#d1bg)" stroke="none" stroke-width="1" />
<polygon points="949,470 1040,418 1110,418 949,520" fill="#86aee0" opacity="0.4" filter="url(#bl4)"/>
<polygon points="949,540 1010,520 1140,640 1090,700 960,620" fill="#4c70c4" opacity="0.6" filter="url(#bl8)"/>
<polygon points="1150,600 1200,560 1200,730 1140,730" fill="#5078c8" opacity="0.5" filter="url(#bl8)"/>
<polygon points="949,640 1100,730 949,730" fill="#3658ac" opacity="0.6" filter="url(#bl8)"/>
<g filter="url(#bl2)">
<polygon points="1048,452 1062,438 1190,528 1196,560 1160,622 1142,612 1010,520 1020,482" fill="#a9b1c0"/>
<polygon points="1060,438 1190,528 1192,545 1050,460" fill="#bcc3d0"/>
<polygon points="1020,500 1150,585 1140,612 1010,525" fill="#9fa8b8"/>
<polygon points="1050,560 1160,625 1130,670 1040,600" fill="#8fa0c4" opacity="0.7"/>
</g>
<g filter="url(#bl2)" stroke="#6d7686" stroke-width="3.5" fill="none" opacity="0.8">
<path d="M1102 482 Q1100 500 1092 512"/><path d="M1182 536 Q1180 552 1172 562"/><path d="M1040 478 Q1046 482 1052 486"/><path d="M1108 528 Q1112 531 1116 533"/>
</g>
<polygon points="1046.5,417.6 1200,417.6 1200,528 1196,531 1052,440" fill="#bacc34" opacity="0.95"/>
<polygon points="1110,418 1150,418 1130,450" fill="#c4cf60" opacity="0.5" filter="url(#bl2)"/>
<polyline points="1046.5,419 1052,440 1196,531 1199,528" fill="none" stroke="#eaf43c" stroke-width="3" stroke-dasharray="2.4 2.4"/>
<line x1="1047.0" y1="418.6" x2="1200.0" y2="418.6" stroke="#dfe83a" stroke-width="2" stroke-dasharray="2.2 2.6"/>
<line x1="1198.6" y1="418.0" x2="1198.6" y2="529.0" stroke="#dfe83a" stroke-width="2" stroke-dasharray="2.2 2.6"/>
<line x1="956.0" y1="497.0" x2="1198.0" y2="655.0" stroke="#fff" stroke-width="4.1" stroke-dasharray="0.1 7.9" stroke-linecap="round"/>
</g>
<rect x="949.8" y="417.8" width="250.2" height="311.6" fill="none" stroke="#0a0a1e" stroke-width="3" />
<text x="957.0" y="445.6" font-size="25" fill="#fff" font-weight="700" stroke="#fff" stroke-linejoin="round" stroke-width="0.5" textLength="67.0" lengthAdjust="spacingAndGlyphs" >Day 0</text>
<text x="0" y="0" font-size="19.5" fill="#fff" font-weight="700" stroke="#fff" stroke-linejoin="round" textLength="129.5" lengthAdjust="spacingAndGlyphs" transform="translate(989.0 552.5) rotate(31.7)" font-style="italic" stroke-width="0.9">Half immersion</text>
<text x="0" y="0" font-size="19.5" fill="#fff" font-weight="700" stroke="#fff" stroke-linejoin="round" textLength="176.0" lengthAdjust="spacingAndGlyphs" transform="translate(978.1 575.7) rotate(30.9)" font-style="italic" stroke-width="0.9">in PBS pH 7 at 37 °C</text>
<text x="0" y="0" font-size="19.5" fill="#f4f6c8" font-weight="700" stroke="#f4f6c8" stroke-linejoin="round" textLength="77.4" lengthAdjust="spacingAndGlyphs" transform="translate(1105.0 439.8) rotate(32.2)" font-style="italic" stroke-width="0.9">External</text>
<text x="0" y="0" font-size="19.5" fill="#f4f6c8" font-weight="700" stroke="#f4f6c8" stroke-linejoin="round" textLength="146.3" lengthAdjust="spacingAndGlyphs" transform="translate(1063.8 441.3) rotate(32.3)" font-style="italic" stroke-width="0.9">interconnection</text>
<rect x="1058.6" y="708.8" width="59.2" height="9.4" fill="#fff" stroke="none" stroke-width="1" />
<text x="1126.4" y="718.8" font-size="24.5" fill="#fff" font-weight="700" stroke="#fff" stroke-linejoin="round" stroke-width="0.5" textLength="64.0" lengthAdjust="spacingAndGlyphs" >5 mm</text>
<g clip-path="url(#dc2)">
<rect x="1203.0" y="417.0" width="251.0" height="313.0" fill="url(#irvig)" stroke="none" stroke-width="1" />
<line x1="1371.0" y1="479.6" x2="1465.0" y2="511.6" stroke="#4a0cb8" stroke-width="8" opacity="0.75" filter="url(#bl2)"/>
<line x1="1371.0" y1="512.6" x2="1465.0" y2="544.6" stroke="#4a0cb8" stroke-width="8" opacity="0.75" filter="url(#bl2)"/>
<line x1="1371.0" y1="546.6" x2="1465.0" y2="578.6" stroke="#4a0cb8" stroke-width="8" opacity="0.75" filter="url(#bl2)"/>
<line x1="1371.0" y1="579.6" x2="1465.0" y2="611.6" stroke="#4a0cb8" stroke-width="8" opacity="0.75" filter="url(#bl2)"/>
<line x1="1371.0" y1="611.6" x2="1465.0" y2="643.6" stroke="#4a0cb8" stroke-width="8" opacity="0.75" filter="url(#bl2)"/>
<line x1="1371.0" y1="643.6" x2="1465.0" y2="675.6" stroke="#4a0cb8" stroke-width="8" opacity="0.75" filter="url(#bl2)"/>
<line x1="1371.0" y1="675.6" x2="1465.0" y2="707.6" stroke="#4a0cb8" stroke-width="8" opacity="0.75" filter="url(#bl2)"/>
<line x1="1193.0" y1="458.6" x2="1273.0" y2="486.6" stroke="#4209b2" stroke-width="7" opacity="0.65" filter="url(#bl2)"/>
<line x1="1193.0" y1="491.6" x2="1273.0" y2="519.6" stroke="#4209b2" stroke-width="7" opacity="0.65" filter="url(#bl2)"/>
<line x1="1193.0" y1="521.6" x2="1273.0" y2="549.6" stroke="#4209b2" stroke-width="7" opacity="0.65" filter="url(#bl2)"/>
<line x1="1193.0" y1="551.6" x2="1273.0" y2="579.6" stroke="#4209b2" stroke-width="7" opacity="0.65" filter="url(#bl2)"/>
<line x1="1193.0" y1="581.6" x2="1273.0" y2="609.6" stroke="#4209b2" stroke-width="7" opacity="0.65" filter="url(#bl2)"/>
<line x1="1193.0" y1="613.6" x2="1273.0" y2="641.6" stroke="#4209b2" stroke-width="7" opacity="0.65" filter="url(#bl2)"/>
<line x1="1343.0" y1="445.6" x2="1353.0" y2="483.6" stroke="#4a10b8" stroke-width="3" opacity="0.6" filter="url(#bl2)"/>
<line x1="1361.0" y1="437.6" x2="1375.0" y2="479.6" stroke="#4a10b8" stroke-width="3" opacity="0.6" filter="url(#bl2)"/>
<line x1="1385.0" y1="441.6" x2="1403.0" y2="477.6" stroke="#4a10b8" stroke-width="3" opacity="0.6" filter="url(#bl2)"/>
<g filter="url(#fb8)"><rect x="1244" y="480" width="178" height="172" rx="26" fill="#8220d4" transform="rotate(10 1332 568)"/></g>
<g filter="url(#fb14)"><ellipse cx="1342" cy="545" rx="68" ry="66" fill="#d414b0"/></g>
<g filter="url(#fb8)"><ellipse cx="1324" cy="578" rx="78" ry="54" fill="#f4267a" transform="rotate(27 1324 578)"/></g>
<g filter="url(#fb5)" transform="rotate(27 1318 584)">
<rect x="1254" y="552" width="128" height="66" rx="16" fill="#ff5a14"/>
</g>
<g filter="url(#fb5)"><ellipse cx="1329" cy="516" rx="9" ry="12" fill="#ff4a28"/><polygon points="1304,652 1320,656 1310,640" fill="#ff4a20" stroke="#ff4a20" stroke-width="8" stroke-linejoin="round"/></g>
<line x1="1272.0" y1="553.0" x2="1380.0" y2="597.0" stroke="#f2401c" stroke-width="4" filter="url(#bl2)" opacity="0.75"/>
<line x1="1258.0" y1="577.0" x2="1366.0" y2="622.0" stroke="#f2401c" stroke-width="4" filter="url(#bl2)" opacity="0.75"/>
<ellipse cx="1292.2" cy="544.5" rx="17" ry="9" fill="#ffa010" filter="url(#bl4)" transform="rotate(25 1292.2 544.5)"/>
<ellipse cx="1329.2" cy="558.6" rx="19" ry="10" fill="#ffa010" filter="url(#bl4)" transform="rotate(25 1329.2 558.6)"/>
<ellipse cx="1280.3" cy="568.4" rx="15" ry="9" fill="#ffa010" filter="url(#bl4)" transform="rotate(25 1280.3 568.4)"/>
<ellipse cx="1370.6" cy="578.2" rx="15" ry="8.5" fill="#ffa010" filter="url(#bl4)" transform="rotate(25 1370.6 578.2)"/>
<ellipse cx="1266.1" cy="586.2" rx="15" ry="9" fill="#ffa010" filter="url(#bl4)" transform="rotate(25 1266.1 586.2)"/>
<ellipse cx="1320.5" cy="584.7" rx="10" ry="7" fill="#ffa010" filter="url(#bl4)" transform="rotate(25 1320.5 584.7)"/>
<ellipse cx="1305.3" cy="602.8" rx="14" ry="8.5" fill="#ffa010" filter="url(#bl4)" transform="rotate(25 1305.3 602.8)"/>
<ellipse cx="1360.8" cy="603.7" rx="15" ry="8.5" fill="#ffa010" filter="url(#bl4)" transform="rotate(25 1360.8 603.7)"/>
<ellipse cx="1346.6" cy="621.7" rx="15" ry="8.5" fill="#ffa010" filter="url(#bl4)" transform="rotate(25 1346.6 621.7)"/>
<ellipse cx="1292.2" cy="544.5" rx="9.8" ry="3.7" fill="#fff6b0" filter="url(#bl2)" transform="rotate(25 1292.2 544.5)"/>
<ellipse cx="1329.2" cy="558.6" rx="11.2" ry="4.3" fill="#fff6b0" filter="url(#bl2)" transform="rotate(25 1329.2 558.6)"/>
<ellipse cx="1280.3" cy="568.4" rx="8.2" ry="3.7" fill="#fff6b0" filter="url(#bl2)" transform="rotate(25 1280.3 568.4)"/>
<ellipse cx="1370.6" cy="578.2" rx="8.2" ry="3.4" fill="#fff6b0" filter="url(#bl2)" transform="rotate(25 1370.6 578.2)"/>
<ellipse cx="1266.1" cy="586.2" rx="8.2" ry="3.7" fill="#fff6b0" filter="url(#bl2)" transform="rotate(25 1266.1 586.2)"/>
<ellipse cx="1320.5" cy="584.7" rx="4.5" ry="2.5" fill="#fff6b0" filter="url(#bl2)" transform="rotate(25 1320.5 584.7)"/>
<ellipse cx="1305.3" cy="602.8" rx="7.5" ry="3.4" fill="#fff6b0" filter="url(#bl2)" transform="rotate(25 1305.3 602.8)"/>
<ellipse cx="1360.8" cy="603.7" rx="8.2" ry="3.4" fill="#fff6b0" filter="url(#bl2)" transform="rotate(25 1360.8 603.7)"/>
<ellipse cx="1346.6" cy="621.7" rx="8.2" ry="3.4" fill="#fff6b0" filter="url(#bl2)" transform="rotate(25 1346.6 621.7)"/>
</g>
<text x="1209.4" y="444.4" font-size="25" fill="#fff" font-weight="700" stroke="#fff" stroke-linejoin="round" stroke-width="0.5" textLength="81.6" lengthAdjust="spacingAndGlyphs" >Day 20</text>
<text x="1340.3" y="444.4" font-size="25" fill="#fff" font-weight="700" stroke="#fff" stroke-linejoin="round" stroke-width="0.5" textLength="105.3" lengthAdjust="spacingAndGlyphs" >IR image</text>
<rect x="1313.8" y="708.8" width="58.4" height="9.4" fill="#fff" stroke="none" stroke-width="1" />
<text x="1381.2" y="718.8" font-size="24.5" fill="#fff" font-weight="700" stroke="#fff" stroke-linejoin="round" stroke-width="0.5" textLength="64.8" lengthAdjust="spacingAndGlyphs" >5 mm</text>
<g clip-path="url(#dc3)">
<rect x="1456.0" y="417.0" width="255.0" height="313.0" fill="url(#irvig)" stroke="none" stroke-width="1" />
<line x1="1627.0" y1="479.6" x2="1721.0" y2="511.6" stroke="#4a0cb8" stroke-width="8" opacity="0.75" filter="url(#bl2)"/>
<line x1="1627.0" y1="512.6" x2="1721.0" y2="544.6" stroke="#4a0cb8" stroke-width="8" opacity="0.75" filter="url(#bl2)"/>
<line x1="1627.0" y1="546.6" x2="1721.0" y2="578.6" stroke="#4a0cb8" stroke-width="8" opacity="0.75" filter="url(#bl2)"/>
<line x1="1627.0" y1="579.6" x2="1721.0" y2="611.6" stroke="#4a0cb8" stroke-width="8" opacity="0.75" filter="url(#bl2)"/>
<line x1="1627.0" y1="611.6" x2="1721.0" y2="643.6" stroke="#4a0cb8" stroke-width="8" opacity="0.75" filter="url(#bl2)"/>
<line x1="1627.0" y1="643.6" x2="1721.0" y2="675.6" stroke="#4a0cb8" stroke-width="8" opacity="0.75" filter="url(#bl2)"/>
<line x1="1627.0" y1="675.6" x2="1721.0" y2="707.6" stroke="#4a0cb8" stroke-width="8" opacity="0.75" filter="url(#bl2)"/>
<line x1="1449.0" y1="458.6" x2="1529.0" y2="486.6" stroke="#4209b2" stroke-width="7" opacity="0.65" filter="url(#bl2)"/>
<line x1="1449.0" y1="491.6" x2="1529.0" y2="519.6" stroke="#4209b2" stroke-width="7" opacity="0.65" filter="url(#bl2)"/>
<line x1="1449.0" y1="521.6" x2="1529.0" y2="549.6" stroke="#4209b2" stroke-width="7" opacity="0.65" filter="url(#bl2)"/>
<line x1="1449.0" y1="551.6" x2="1529.0" y2="579.6" stroke="#4209b2" stroke-width="7" opacity="0.65" filter="url(#bl2)"/>
<line x1="1449.0" y1="581.6" x2="1529.0" y2="609.6" stroke="#4209b2" stroke-width="7" opacity="0.65" filter="url(#bl2)"/>
<line x1="1449.0" y1="613.6" x2="1529.0" y2="641.6" stroke="#4209b2" stroke-width="7" opacity="0.65" filter="url(#bl2)"/>
<line x1="1599.0" y1="445.6" x2="1609.0" y2="483.6" stroke="#4a10b8" stroke-width="3" opacity="0.6" filter="url(#bl2)"/>
<line x1="1617.0" y1="437.6" x2="1631.0" y2="479.6" stroke="#4a10b8" stroke-width="3" opacity="0.6" filter="url(#bl2)"/>
<line x1="1641.0" y1="441.6" x2="1659.0" y2="477.6" stroke="#4a10b8" stroke-width="3" opacity="0.6" filter="url(#bl2)"/>
<g filter="url(#fb8)"><rect x="1500" y="474" width="180" height="124" rx="24" fill="#7c1cd0" transform="rotate(8 1590 535)"/></g>
<g filter="url(#fb14)"><rect x="1480" y="592" width="160" height="74" rx="20" fill="#3c0aac" transform="rotate(24 1555 628)"/></g>
<g filter="url(#fb14)"><ellipse cx="1594" cy="538" rx="60" ry="50" fill="#d414b0"/></g>
<g filter="url(#fb8)"><ellipse cx="1580" cy="554" rx="70" ry="30" fill="#f4267a" transform="rotate(25 1580 554)"/></g>
<g filter="url(#fb5)" transform="rotate(25 1573 562)">
<rect x="1512" y="551" width="124" height="24" rx="11" fill="#ff5a14"/>
</g>
<g filter="url(#fb5)"><ellipse cx="1569" cy="516" rx="11" ry="12" fill="#ff3c38"/><polygon points="1532,540 1566,522 1586,556" fill="#ff4a24"/></g>
<ellipse cx="1534.4" cy="543.4" rx="19" ry="9.5" fill="#ffa010" filter="url(#bl4)" transform="rotate(25 1534.4 543.4)"/>
<ellipse cx="1573.5" cy="558.6" rx="19" ry="9.5" fill="#ffa010" filter="url(#bl4)" transform="rotate(25 1573.5 558.6)"/>
<ellipse cx="1612.7" cy="579.3" rx="17" ry="9.0" fill="#ffa010" filter="url(#bl4)" transform="rotate(25 1612.7 579.3)"/>
<ellipse cx="1534.4" cy="543.4" rx="9.8" ry="3.7" fill="#fff8c0" filter="url(#bl2)" transform="rotate(25 1534.4 543.4)"/>
<ellipse cx="1573.5" cy="558.6" rx="9.8" ry="3.7" fill="#fff8c0" filter="url(#bl2)" transform="rotate(25 1573.5 558.6)"/>
<ellipse cx="1612.7" cy="579.3" rx="8.2" ry="3.4" fill="#fff8c0" filter="url(#bl2)" transform="rotate(25 1612.7 579.3)"/>
<path d="M1503 554.5 L1637 615.8 Q1642.5 618.5 1640 624 L1617.5 675 Q1615 680.5 1609.5 678 L1472 610 Q1466.5 607.4 1469.5 602 L1494.5 556 Q1497.4 551.8 1503 554.5 Z" fill="none" stroke="#f01428" stroke-width="3.4" stroke-dasharray="0.1 7.3" stroke-linecap="round"/>
</g>
<text x="1463.5" y="444.4" font-size="25" fill="#fff" font-weight="700" stroke="#fff" stroke-linejoin="round" stroke-width="0.5" textLength="80.5" lengthAdjust="spacingAndGlyphs" >Day 30</text>
<text x="1598.0" y="444.4" font-size="25" fill="#fff" font-weight="700" stroke="#fff" stroke-linejoin="round" stroke-width="0.5" textLength="106.0" lengthAdjust="spacingAndGlyphs" >IR image</text>
<text x="0" y="0" font-size="25" fill="#f01428" font-weight="700" stroke="#f01428" stroke-linejoin="round" textLength="111.6" lengthAdjust="spacingAndGlyphs" transform="translate(1481.0 642.4) rotate(24.8)" font-style="italic" stroke-width="0.9">turned off</text>
<rect x="1571.6" y="708.8" width="59.0" height="9.4" fill="#fff" stroke="none" stroke-width="1" />
<text x="1639.4" y="718.8" font-size="24.5" fill="#fff" font-weight="700" stroke="#fff" stroke-linejoin="round" stroke-width="0.5" textLength="65.1" lengthAdjust="spacingAndGlyphs" >5 mm</text>
<rect x="1203.0" y="417.8" width="507.0" height="311.8" fill="none" stroke="#06041c" stroke-width="3" />
<line x1="1455.0" y1="417.6" x2="1455.0" y2="729.6" stroke="#06041c" stroke-width="4.6" />
<text x="917.5" y="433.6" font-size="34" fill="#000" font-weight="700" stroke="#000" stroke-linejoin="round" stroke-width="0.5" textLength="21.5" lengthAdjust="spacingAndGlyphs" >d</text>
</g>
<g id="panel_e">
<text x="11.0" y="801.6" font-size="34" fill="#000" font-weight="700" stroke="#000" stroke-linejoin="round" stroke-width="0.5" textLength="20.0" lengthAdjust="spacingAndGlyphs" >e</text>
<g filter="url(#soft)">
<line x1="45.3" y1="809.8" x2="373.0" y2="809.8" stroke="#8c8c8c" stroke-width="2" />
<line x1="45.3" y1="940.0" x2="373.0" y2="940.0" stroke="#8a9bb8" stroke-width="2" />
<circle cx="61.0" cy="839.3" r="11.0" fill="#4472c4" stroke="#3862b0" stroke-width="2.2" />
<circle cx="136.5" cy="839.3" r="11.0" fill="#4472c4" stroke="#3862b0" stroke-width="2.2" />
<circle cx="212.0" cy="839.3" r="11.0" fill="#4472c4" stroke="#3862b0" stroke-width="2.2" />
<circle cx="283.6" cy="837.6" r="11.0" fill="#4472c4" stroke="#3862b0" stroke-width="2.2" />
<circle cx="353.9" cy="838.8" r="11.0" fill="#4472c4" stroke="#3862b0" stroke-width="2.2" />
<circle cx="99.0" cy="878.3" r="11.0" fill="#4472c4" stroke="#3862b0" stroke-width="2.2" />
<circle cx="174.0" cy="878.3" r="11.0" fill="#4472c4" stroke="#3862b0" stroke-width="2.2" />
<circle cx="247.6" cy="877.2" r="11.0" fill="#4472c4" stroke="#3862b0" stroke-width="2.2" />
<circle cx="319.7" cy="877.2" r="11.0" fill="#4472c4" stroke="#3862b0" stroke-width="2.2" />
<circle cx="61.0" cy="916.5" r="11.0" fill="#4472c4" stroke="#3862b0" stroke-width="2.2" />
<circle cx="135.7" cy="916.5" r="11.0" fill="#4472c4" stroke="#3862b0" stroke-width="2.2" />
<circle cx="213.0" cy="919.2" r="11.0" fill="#4472c4" stroke="#3862b0" stroke-width="2.2" />
<circle cx="284.9" cy="917.2" r="11.0" fill="#4472c4" stroke="#3862b0" stroke-width="2.2" />
<circle cx="354.8" cy="918.0" r="11.0" fill="#4472c4" stroke="#3862b0" stroke-width="2.2" />
<path d="M282.2 788.2 L282.6 821.5 A19 16.3 0 0 1 282.8 854.4 L283.6 900.8 A19 16.6 0 0 1 285.8 934 V957" fill="none" stroke="#2a2a2a" stroke-width="2.1"/>
<polygon points="278.8,814.6 286.6,814.6 282.7,822.6" fill="#111"/>
<polygon points="281.6,955.5 290.2,955.5 285.9,963.6" fill="#111"/>
<rect x="43.0" y="995.9" width="54.2" height="25.7" fill="url(#hatch)" stroke="none" stroke-width="1" />
<path d="M43.0 997.2 H95.9 V1020.3 H43.0" fill="none" stroke="#111" stroke-width="2.6"/>
<rect x="117.2" y="995.9" width="111.5" height="25.7" fill="url(#hatch)" stroke="none" stroke-width="1" />
<path d="M118.5 997.2 H227.4 V1020.3 H118.5 Z" fill="none" stroke="#111" stroke-width="2.6"/>
<rect x="254.0" y="995.9" width="111.6" height="25.7" fill="url(#hatch)" stroke="none" stroke-width="1" />
<path d="M255.3 997.2 H364.3 V1020.3 H255.3 Z" fill="none" stroke="#111" stroke-width="2.6"/>
<rect x="49.2" y="1035.0" width="110.6" height="26.2" fill="url(#hatch)" stroke="none" stroke-width="1" />
<path d="M50.5 1036.3 H158.5 V1059.9 H50.5 Z" fill="none" stroke="#111" stroke-width="2.6"/>
<rect x="188.6" y="1035.0" width="110.6" height="26.2" fill="url(#hatch)" stroke="none" stroke-width="1" />
<path d="M189.9 1036.3 H297.9 V1059.9 H189.9 Z" fill="none" stroke="#111" stroke-width="2.6"/>
<rect x="318.0" y="1035.0" width="55.3" height="26.2" fill="url(#hatch)" stroke="none" stroke-width="1" />
<path d="M373.3 1036.3 H319.3 V1059.9 H373.3" fill="none" stroke="#111" stroke-width="2.6"/>
<rect x="43.0" y="1072.7" width="53.4" height="26.1" fill="url(#hatch)" stroke="none" stroke-width="1" />
<path d="M43.0 1074.0 H95.1 V1097.5 H43.0" fill="none" stroke="#111" stroke-width="2.6"/>
<rect x="116.6" y="1072.7" width="110.6" height="26.1" fill="url(#hatch)" stroke="none" stroke-width="1" />
<path d="M117.9 1074.0 H225.9 V1097.5 H117.9 Z" fill="none" stroke="#111" stroke-width="2.6"/>
<rect x="251.6" y="1072.7" width="111.2" height="26.1" fill="url(#hatch)" stroke="none" stroke-width="1" />
<path d="M252.9 1074.0 H361.5 V1097.5 H252.9 Z" fill="none" stroke="#111" stroke-width="2.6"/>
<rect x="46.7" y="1112.0" width="110.6" height="25.4" fill="url(#hatch)" stroke="none" stroke-width="1" />
<path d="M48.0 1113.3 H156.0 V1136.1 H48.0 Z" fill="none" stroke="#111" stroke-width="2.6"/>
<rect x="184.0" y="1112.0" width="111.0" height="25.4" fill="url(#hatch)" stroke="none" stroke-width="1" />
<path d="M185.3 1113.3 H293.7 V1136.1 H185.3 Z" fill="none" stroke="#111" stroke-width="2.6"/>
<path d="M167.7 969.4 V987.1 H237.6 V1027.8 H167.7 V1066.4 H234.5 V1106 H167.7 V1156" fill="none" stroke="#111" stroke-width="3" stroke-linejoin="miter"/>
<polygon points="161.2,1154.5 174.2,1154.5 167.7,1167" fill="#111"/>
<line x1="306.5" y1="1118.0" x2="345.0" y2="1118.0" stroke="#222" stroke-width="1.8" stroke-dasharray="6.5 2.8"/>
<line x1="306.5" y1="1141.0" x2="345.0" y2="1141.0" stroke="#222" stroke-width="1.8" stroke-dasharray="6.5 2.8"/>
<text x="320.3" y="1134.0" font-size="14.5" fill="#555" text-anchor="middle" >W</text>
<line x1="186.0" y1="1147.8" x2="186.0" y2="1166.6" stroke="#111" stroke-width="2.4" />
<line x1="296.0" y1="1147.8" x2="296.0" y2="1166.6" stroke="#111" stroke-width="2.4" />
<line x1="196.0" y1="1157.2" x2="219.0" y2="1157.2" stroke="#111" stroke-width="2.4" />
<line x1="260.6" y1="1157.2" x2="285.0" y2="1157.2" stroke="#111" stroke-width="2.4" />
<polygon points="188.2,1157.2 200.5,1151.6 200.5,1162.8" fill="#111"/>
<polygon points="293.8,1157.2 281.5,1151.6 281.5,1162.8" fill="#111"/>
<text x="239.3" y="1162.0" font-size="16" fill="#555" text-anchor="middle" >L</text>
</g>
<g filter="url(#soft)">
<polyline points="443.7,824.8 451.2,825.6 458.7,826.3 466.2,827.1 473.7,827.8 481.2,828.6 488.7,829.3 496.2,830.0 503.7,830.8 511.2,831.5 518.7,832.3 526.2,833.0 533.7,833.8 541.2,834.5 548.7,835.2 556.2,836.0 563.7,836.7 571.2,837.4 578.7,838.2 586.2,838.9 593.7,839.6 601.2,840.3 608.7,841.1 616.2,841.8 623.7,842.5 631.2,843.2 638.7,844.0 646.2,844.7 653.7,845.4 661.2,846.1 668.7,846.8 676.2,847.6 683.7,848.3 691.2,849.0 698.7,849.7 706.2,850.4 713.7,851.1 721.2,851.8 728.7,852.5 736.2,853.2 743.7,854.0 751.2,854.7 758.7,855.4 766.2,856.1 773.7,856.8 781.2,857.5 788.7,858.2 796.2,858.9 803.7,859.6 811.2,860.3 818.7,860.9 826.2,861.6 833.7,862.3 841.2,863.0 848.7,863.7 856.2,864.4 863.7,865.1 871.2,865.8 878.7,866.5 886.2,867.1" fill="none" stroke="#3c3c3c" stroke-width="1.9" stroke-linejoin="round"/>
<polyline points="443.7,824.8 451.2,826.6 458.7,828.3 466.2,830.0 473.7,831.7 481.2,833.4 488.7,835.1 496.2,836.8 503.7,838.4 511.2,840.0 518.7,841.7 526.2,843.3 533.7,844.9 541.2,846.5 548.7,848.0 556.2,849.6 563.7,851.1 571.2,852.7 578.7,854.2 586.2,855.7 593.7,857.2 601.2,858.7 608.7,860.2 616.2,861.6 623.7,863.1 631.2,864.5 638.7,866.0 646.2,867.4 653.7,868.8 661.2,870.2 668.7,871.6 676.2,873.0 683.7,874.3 691.2,875.7 698.7,877.1 706.2,878.4 713.7,879.7 721.2,881.0 728.7,882.3 736.2,883.6 743.7,884.9 751.2,886.2 758.7,887.5 766.2,888.8 773.7,890.0 781.2,891.3 788.7,892.5 796.2,893.7 803.7,894.9 811.2,896.1 818.7,897.3 826.2,898.5 833.7,899.7 841.2,900.9 848.7,902.1 856.2,903.2 863.7,904.4 871.2,905.5 878.7,906.7 886.2,907.8" fill="none" stroke="#f24848" stroke-width="1.9" stroke-linejoin="round"/>
<polyline points="443.7,824.8 451.2,827.8 458.7,830.7 466.2,833.6 473.7,836.5 481.2,839.3 488.7,842.0 496.2,844.7 503.7,847.4 511.2,850.0 518.7,852.6 526.2,855.1 533.7,857.6 541.2,860.1 548.7,862.5 556.2,864.9 563.7,867.3 571.2,869.6 578.7,871.9 586.2,874.1 593.7,876.3 601.2,878.5 608.7,880.7 616.2,882.8 623.7,884.9 631.2,887.0 638.7,889.0 646.2,891.0 653.7,893.0 661.2,895.0 668.7,896.9 676.2,898.8 683.7,900.7 691.2,902.5 698.7,904.4 706.2,906.2 713.7,907.9 721.2,909.7 728.7,911.4 736.2,913.2 743.7,914.8 751.2,916.5 758.7,918.2 766.2,919.8 773.7,921.4 781.2,923.0 788.7,924.6 796.2,926.1 803.7,927.6 811.2,929.2 818.7,930.7 826.2,932.1 833.7,933.6 841.2,935.0 848.7,936.5 856.2,937.9 863.7,939.3 871.2,940.7 878.7,942.0 886.2,943.4" fill="none" stroke="#4a4af0" stroke-width="1.9" stroke-linejoin="round"/>
<polyline points="443.7,824.8 451.2,831.4 458.7,837.8 466.2,843.9 473.7,849.8 481.2,855.5 488.7,860.9 496.2,866.1 503.7,871.2 511.2,876.1 518.7,880.8 526.2,885.3 533.7,889.7 541.2,893.9 548.7,898.0 556.2,902.0 563.7,905.8 571.2,909.6 578.7,913.2 586.2,916.7 593.7,920.1 601.2,923.4 608.7,926.6 616.2,929.7 623.7,932.7 631.2,935.6 638.7,938.5 646.2,941.3 653.7,944.0 661.2,946.6 668.7,949.2 676.2,951.7 683.7,954.1 691.2,956.5 698.7,958.8 706.2,961.1 713.7,963.3 721.2,965.5 728.7,967.6 736.2,969.6 743.7,971.6 751.2,973.6 758.7,975.5 766.2,977.4 773.7,979.2 781.2,981.0 788.7,982.8 796.2,984.5 803.7,986.2 811.2,987.9 818.7,989.5 826.2,991.0 833.7,992.6 841.2,994.1 848.7,995.6 856.2,997.1 863.7,998.5 871.2,999.9 878.7,1001.3 886.2,1002.6" fill="none" stroke="#f048f0" stroke-width="1.9" stroke-linejoin="round"/>
<polyline points="443.7,824.8 451.2,837.3 458.7,848.9 466.2,859.6 473.7,869.5 481.2,878.7 488.7,887.3 496.2,895.3 503.7,902.8 511.2,909.9 518.7,916.5 526.2,922.8 533.7,928.7 541.2,934.3 548.7,939.6 556.2,944.6 563.7,949.3 571.2,953.9 578.7,958.2 586.2,962.3 593.7,966.2 601.2,969.9 608.7,973.5 616.2,976.9 623.7,980.2 631.2,983.4 638.7,986.4 646.2,989.3 653.7,992.1 661.2,994.8 668.7,997.3 676.2,999.8 683.7,1002.2 691.2,1004.5 698.7,1006.8 706.2,1008.9 713.7,1011.0 721.2,1013.0 728.7,1015.0 736.2,1016.8 743.7,1018.7 751.2,1020.4 758.7,1022.2 766.2,1023.8 773.7,1025.4 781.2,1027.0 788.7,1028.5 796.2,1030.0 803.7,1031.5 811.2,1032.9 818.7,1034.2 826.2,1035.5 833.7,1036.8 841.2,1038.1 848.7,1039.3 856.2,1040.5 863.7,1041.7 871.2,1042.8 878.7,1043.9 886.2,1045.0" fill="none" stroke="#46a046" stroke-width="1.9" stroke-linejoin="round"/>
<polyline points="443.7,824.6 449.3,842.4 454.9,858.0 460.5,871.6 466.1,883.6 471.7,894.2 477.3,903.7 482.9,912.4 488.5,920.6 494.1,928.6 499.7,936.5 505.3,944.2 510.9,951.7 516.5,958.7 522.1,965.1 527.7,971.0 533.3,976.4 538.9,981.2 544.5,985.7 550.1,989.8 555.7,993.7 561.3,997.3 566.9,1000.8 572.5,1004.0 578.1,1007.1 583.7,1010.0 589.3,1012.9 594.9,1015.5 600.5,1018.1 606.1,1020.5 611.7,1022.8 617.3,1025.1 622.9,1027.2 628.5,1029.2 634.1,1031.2 639.7,1033.1 645.3,1034.9 650.9,1036.7 656.5,1038.3 662.1,1040.0 667.8,1041.5 673.4,1043.0 679.0,1044.5 684.6,1045.9 690.2,1047.2 695.8,1048.6 701.4,1049.8 707.0,1051.1 712.6,1052.3 718.2,1053.4 723.8,1054.5 729.4,1055.6 735.0,1056.7 740.6,1057.7 746.2,1058.7 751.8,1059.7 757.4,1060.6 763.0,1061.5 768.6,1062.4 774.2,1063.3 779.8,1064.1 785.4,1064.9 791.0,1065.7 796.6,1066.5 802.2,1067.3 807.8,1068.0 813.4,1068.7 819.0,1069.4 824.6,1070.1 830.2,1070.8 835.8,1071.5 841.4,1072.1 847.0,1072.7 852.6,1073.3 858.2,1073.9 863.8,1074.5 869.4,1075.1 875.0,1075.7 880.6,1076.2 886.2,1076.7" fill="none" stroke="#3c3c96" stroke-width="1.9" stroke-linejoin="round"/>
<polyline points="443.7,824.8 444.4,828.0 445.4,832.3 446.6,837.4 447.9,843.0 449.2,848.8 450.3,854.4 451.4,859.9 452.5,865.4 453.5,871.1 454.6,877.1 455.7,883.3 457.0,890.0 458.3,897.3 459.8,905.0 461.3,913.2 462.8,921.4 464.3,929.6 465.8,937.4 467.3,945.1 468.8,952.7 470.2,960.2 471.7,967.6 473.2,974.9 474.7,981.9 476.1,988.8 477.6,995.5 479.1,1002.1 480.6,1008.5 482.1,1014.6 483.5,1020.4 485.0,1026.0 486.5,1031.3 487.9,1036.4 489.4,1041.3 490.9,1045.8 492.4,1050.1 493.9,1054.0 495.3,1057.5 496.8,1060.8 498.3,1063.8 499.8,1066.7 501.2,1069.3 502.7,1071.8 504.1,1074.0 505.5,1076.0 507.0,1077.8 508.5,1079.6 510.1,1081.2 511.8,1082.7 513.6,1084.1 515.5,1085.3 517.4,1086.4 519.3,1087.5 521.1,1088.6 522.9,1089.6 524.4,1090.5 526.0,1091.4 527.7,1092.2 529.7,1093.0 532.2,1093.9 535.2,1094.9 538.8,1096.0 542.6,1097.0 546.5,1098.0 550.5,1099.0 554.3,1099.9 557.8,1100.6 560.9,1101.2 564.0,1101.7 567.4,1102.3 571.5,1102.8 576.5,1103.4 582.5,1104.1 589.6,1104.9 597.2,1105.7 605.1,1106.5 613.1,1107.2 620.7,1107.9 628.1,1108.4 635.5,1108.9 642.8,1109.4 650.2,1109.8 657.6,1110.2 665.0,1110.5 672.3,1110.9 679.7,1111.2 687.1,1111.5 694.5,1111.8 701.8,1112.0 709.2,1112.3 716.6,1112.6 723.9,1112.8 731.3,1113.1 738.7,1113.4 746.1,1113.6 753.5,1113.8 760.8,1114.0 768.2,1114.1 775.6,1114.3 783.0,1114.4 790.3,1114.5 797.7,1114.7 805.1,1114.8 812.5,1115.0 819.8,1115.2 827.2,1115.3 834.6,1115.4 842.0,1115.6 849.8,1115.7 858.3,1115.8 866.8,1115.8 874.7,1115.9 881.4,1115.9 886.2,1116.0" fill="none" stroke="#9b48f2" stroke-width="1.9" stroke-linejoin="round"/>
<rect x="443.7" y="794.6" width="442.5" height="326.6" fill="none" stroke="#4a4a4a" stroke-width="1.9" />
<line x1="443.7" y1="1121.2" x2="443.7" y2="1127.2" stroke="#4a4a4a" stroke-width="1.5" />
<line x1="465.8" y1="1121.2" x2="465.8" y2="1124.2" stroke="#4a4a4a" stroke-width="1.2" />
<text x="443.2" y="1144.6" font-size="15.8" fill="#444" text-anchor="middle" >0.00</text>
<line x1="487.9" y1="1121.2" x2="487.9" y2="1127.2" stroke="#4a4a4a" stroke-width="1.5" />
<line x1="510.1" y1="1121.2" x2="510.1" y2="1124.2" stroke="#4a4a4a" stroke-width="1.2" />
<text x="487.4" y="1144.6" font-size="15.8" fill="#444" text-anchor="middle" >0.01</text>
<line x1="532.2" y1="1121.2" x2="532.2" y2="1127.2" stroke="#4a4a4a" stroke-width="1.5" />
<line x1="554.3" y1="1121.2" x2="554.3" y2="1124.2" stroke="#4a4a4a" stroke-width="1.2" />
<text x="531.7" y="1144.6" font-size="15.8" fill="#444" text-anchor="middle" >0.02</text>
<line x1="576.5" y1="1121.2" x2="576.5" y2="1127.2" stroke="#4a4a4a" stroke-width="1.5" />
<line x1="598.6" y1="1121.2" x2="598.6" y2="1124.2" stroke="#4a4a4a" stroke-width="1.2" />
<text x="576.0" y="1144.6" font-size="15.8" fill="#444" text-anchor="middle" >0.03</text>
<line x1="620.7" y1="1121.2" x2="620.7" y2="1127.2" stroke="#4a4a4a" stroke-width="1.5" />
<line x1="642.8" y1="1121.2" x2="642.8" y2="1124.2" stroke="#4a4a4a" stroke-width="1.2" />
<text x="620.2" y="1144.6" font-size="15.8" fill="#444" text-anchor="middle" >0.04</text>
<line x1="665.0" y1="1121.2" x2="665.0" y2="1127.2" stroke="#4a4a4a" stroke-width="1.5" />
<line x1="687.1" y1="1121.2" x2="687.1" y2="1124.2" stroke="#4a4a4a" stroke-width="1.2" />
<text x="664.5" y="1144.6" font-size="15.8" fill="#444" text-anchor="middle" >0.05</text>
<line x1="709.2" y1="1121.2" x2="709.2" y2="1127.2" stroke="#4a4a4a" stroke-width="1.5" />
<line x1="731.3" y1="1121.2" x2="731.3" y2="1124.2" stroke="#4a4a4a" stroke-width="1.2" />
<text x="708.7" y="1144.6" font-size="15.8" fill="#444" text-anchor="middle" >0.06</text>
<line x1="753.5" y1="1121.2" x2="753.5" y2="1127.2" stroke="#4a4a4a" stroke-width="1.5" />
<line x1="775.6" y1="1121.2" x2="775.6" y2="1124.2" stroke="#4a4a4a" stroke-width="1.2" />
<text x="753.0" y="1144.6" font-size="15.8" fill="#444" text-anchor="middle" >0.07</text>
<line x1="797.7" y1="1121.2" x2="797.7" y2="1127.2" stroke="#4a4a4a" stroke-width="1.5" />
<line x1="819.8" y1="1121.2" x2="819.8" y2="1124.2" stroke="#4a4a4a" stroke-width="1.2" />
<text x="797.2" y="1144.6" font-size="15.8" fill="#444" text-anchor="middle" >0.08</text>
<line x1="842.0" y1="1121.2" x2="842.0" y2="1127.2" stroke="#4a4a4a" stroke-width="1.5" />
<line x1="864.1" y1="1121.2" x2="864.1" y2="1124.2" stroke="#4a4a4a" stroke-width="1.2" />
<text x="841.5" y="1144.6" font-size="15.8" fill="#444" text-anchor="middle" >0.09</text>
<line x1="886.2" y1="1121.2" x2="886.2" y2="1127.2" stroke="#4a4a4a" stroke-width="1.5" />
<text x="885.7" y="1144.6" font-size="15.8" fill="#444" text-anchor="middle" >0.10</text>
<line x1="437.7" y1="1121.2" x2="443.7" y2="1121.2" stroke="#4a4a4a" stroke-width="1.5" />
<line x1="440.7" y1="1091.6" x2="443.7" y2="1091.6" stroke="#4a4a4a" stroke-width="1.2" />
<text x="434.5" y="1126.8" font-size="16" fill="#444" text-anchor="end" >0.0</text>
<line x1="437.7" y1="1061.9" x2="443.7" y2="1061.9" stroke="#4a4a4a" stroke-width="1.5" />
<line x1="440.7" y1="1032.3" x2="443.7" y2="1032.3" stroke="#4a4a4a" stroke-width="1.2" />
<text x="434.5" y="1067.5" font-size="16" fill="#444" text-anchor="end" >0.2</text>
<line x1="437.7" y1="1002.6" x2="443.7" y2="1002.6" stroke="#4a4a4a" stroke-width="1.5" />
<line x1="440.7" y1="973.0" x2="443.7" y2="973.0" stroke="#4a4a4a" stroke-width="1.2" />
<text x="434.5" y="1008.2" font-size="16" fill="#444" text-anchor="end" >0.4</text>
<line x1="437.7" y1="943.4" x2="443.7" y2="943.4" stroke="#4a4a4a" stroke-width="1.5" />
<line x1="440.7" y1="913.7" x2="443.7" y2="913.7" stroke="#4a4a4a" stroke-width="1.2" />
<text x="434.5" y="949.0" font-size="16" fill="#444" text-anchor="end" >0.6</text>
<line x1="437.7" y1="884.1" x2="443.7" y2="884.1" stroke="#4a4a4a" stroke-width="1.5" />
<line x1="440.7" y1="854.4" x2="443.7" y2="854.4" stroke="#4a4a4a" stroke-width="1.2" />
<text x="434.5" y="889.7" font-size="16" fill="#444" text-anchor="end" >0.8</text>
<line x1="437.7" y1="824.8" x2="443.7" y2="824.8" stroke="#4a4a4a" stroke-width="1.5" />
<text x="434.5" y="830.4" font-size="16" fill="#444" text-anchor="end" >1.0</text>
<text x="571.2" y="1166.4" font-size="16" fill="#4a4a4a" >Filler volume fraction (ϕ<tspan font-size="10" dy="4">d</tspan><tspan dy="-4">)</tspan></text>
<text x="0" y="0" font-size="16" fill="#4a4a4a" text-anchor="middle" textLength="209.0" lengthAdjust="spacingAndGlyphs" transform="translate(404.5 949.0) rotate(-90)" >Relative Permeability (P/Po)</text>
<rect x="764.0" y="803.5" width="109.0" height="119.0" fill="#9a9a9a" stroke="none" stroke-width="1" />
<rect x="762.4" y="801.9" width="109.0" height="119.0" fill="#fff" stroke="#555" stroke-width="1.2" />
<line x1="769.0" y1="812.0" x2="798.8" y2="812.0" stroke="#3c3c3c" stroke-width="1.9" />
<text x="804.2" y="816.9" font-size="14" fill="#444" >L/W=1</text>
<line x1="769.0" y1="829.1" x2="798.8" y2="829.1" stroke="#f24848" stroke-width="1.9" />
<text x="804.2" y="834.0" font-size="14" fill="#444" >L/W=5</text>
<line x1="769.0" y1="846.3" x2="798.8" y2="846.3" stroke="#4a4af0" stroke-width="1.9" />
<text x="804.2" y="851.2" font-size="14" fill="#444" >L/W=10</text>
<line x1="769.0" y1="863.4" x2="798.8" y2="863.4" stroke="#f048f0" stroke-width="1.9" />
<text x="804.2" y="868.3" font-size="14" fill="#444" >L/W=25</text>
<line x1="769.0" y1="880.5" x2="798.8" y2="880.5" stroke="#46a046" stroke-width="1.9" />
<text x="804.2" y="885.4" font-size="14" fill="#444" >L/W=50</text>
<line x1="769.0" y1="897.6" x2="798.8" y2="897.6" stroke="#3c3c96" stroke-width="1.9" />
<text x="804.2" y="902.5" font-size="14" fill="#444" >L/W=100</text>
<line x1="769.0" y1="914.8" x2="798.8" y2="914.8" stroke="#9b48f2" stroke-width="1.9" />
<text x="804.2" y="919.7" font-size="14" fill="#444" >L/W=1000</text>
</g>
</g>
<g id="panel_f">
<text x="940.3" y="802.0" font-size="36" fill="#000" font-weight="700" stroke="#000" stroke-linejoin="round" stroke-width="0.5" textLength="13.7" lengthAdjust="spacingAndGlyphs" >f</text>
<g filter="url(#soft)">
<line x1="987.0" y1="836.8" x2="987.0" y2="866.2" stroke="#1f6fc6" stroke-width="3.8" />
<line x1="996.4" y1="801.4" x2="996.4" y2="830.9" stroke="#1f6fc6" stroke-width="3.8" />
<line x1="996.4" y1="847.6" x2="996.4" y2="876.1" stroke="#1f6fc6" stroke-width="3.8" />
<line x1="1006.3" y1="822.0" x2="1006.3" y2="850.5" stroke="#1f6fc6" stroke-width="3.8" />
<line x1="1015.1" y1="802.4" x2="1015.1" y2="830.9" stroke="#1f6fc6" stroke-width="3.8" />
<line x1="1015.1" y1="850.5" x2="1015.1" y2="879.0" stroke="#1f6fc6" stroke-width="3.8" />
<line x1="1023.4" y1="833.8" x2="1023.4" y2="863.3" stroke="#1f6fc6" stroke-width="3.8" />
<line x1="1032.2" y1="801.4" x2="1032.2" y2="829.9" stroke="#1f6fc6" stroke-width="3.8" />
<line x1="1032.2" y1="848.5" x2="1032.2" y2="878.0" stroke="#1f6fc6" stroke-width="3.8" />
<line x1="1042.1" y1="811.2" x2="1042.1" y2="839.7" stroke="#1f6fc6" stroke-width="3.8" />
<line x1="1042.1" y1="854.4" x2="1042.1" y2="882.9" stroke="#1f6fc6" stroke-width="3.8" />
<line x1="1051.5" y1="799.4" x2="1051.5" y2="827.9" stroke="#1f6fc6" stroke-width="3.8" />
<line x1="1051.5" y1="861.3" x2="1051.5" y2="890.8" stroke="#1f6fc6" stroke-width="3.8" />
<line x1="1060.1" y1="829.9" x2="1060.1" y2="859.4" stroke="#1f6fc6" stroke-width="3.8" />
<line x1="1067.6" y1="794.5" x2="1067.6" y2="821.0" stroke="#1f6fc6" stroke-width="3.8" />
<line x1="1069.2" y1="840.7" x2="1069.2" y2="869.2" stroke="#1f6fc6" stroke-width="3.8" />
<line x1="1077.0" y1="812.2" x2="1077.0" y2="840.7" stroke="#1f6fc6" stroke-width="3.8" />
<line x1="1077.4" y1="854.4" x2="1077.4" y2="883.9" stroke="#1f6fc6" stroke-width="3.8" />
<line x1="1088.8" y1="794.5" x2="1088.8" y2="822.0" stroke="#1f6fc6" stroke-width="3.8" />
<line x1="1088.8" y1="832.8" x2="1088.8" y2="862.3" stroke="#1f6fc6" stroke-width="3.8" />
<line x1="1098.7" y1="811.2" x2="1098.7" y2="839.7" stroke="#1f6fc6" stroke-width="3.8" />
<line x1="1109.9" y1="796.5" x2="1109.9" y2="825.0" stroke="#1f6fc6" stroke-width="3.8" />
<line x1="1109.9" y1="833.8" x2="1109.9" y2="863.3" stroke="#1f6fc6" stroke-width="3.8" />
<line x1="1122.1" y1="804.3" x2="1122.1" y2="832.8" stroke="#1f6fc6" stroke-width="3.8" />
<line x1="1122.1" y1="843.6" x2="1122.1" y2="873.1" stroke="#1f6fc6" stroke-width="3.8" />
<line x1="1132.5" y1="818.1" x2="1132.5" y2="846.6" stroke="#1f6fc6" stroke-width="3.8" />
<line x1="1134.4" y1="861.3" x2="1134.4" y2="890.8" stroke="#1f6fc6" stroke-width="3.8" />
<line x1="1143.3" y1="826.9" x2="1143.3" y2="855.4" stroke="#1f6fc6" stroke-width="3.8" />
<line x1="1153.7" y1="794.5" x2="1153.7" y2="823.0" stroke="#1f6fc6" stroke-width="3.8" />
<line x1="1153.7" y1="835.8" x2="1153.7" y2="865.3" stroke="#1f6fc6" stroke-width="3.8" />
<line x1="1164.9" y1="808.2" x2="1164.9" y2="836.8" stroke="#1f6fc6" stroke-width="3.8" />
<line x1="1163.9" y1="854.4" x2="1163.9" y2="882.9" stroke="#1f6fc6" stroke-width="3.8" />
<line x1="977.2" y1="793.5" x2="1170.8" y2="793.5" stroke="#1a1a1a" stroke-width="3.3" />
<line x1="979.0" y1="891.8" x2="1172.8" y2="891.8" stroke="#1a1a1a" stroke-width="3.3" />
<text x="1068.3" y="912.0" font-size="10.5" fill="#5a5a5a" text-anchor="middle" >s' =-0.5</text>
<line x1="982.7" y1="948.3" x2="1006.7" y2="933.0" stroke="#1f6fc6" stroke-width="3.7" />
<line x1="1012.9" y1="927.7" x2="1012.9" y2="956.3" stroke="#1f6fc6" stroke-width="3.7" />
<line x1="1021.3" y1="928.3" x2="1046.7" y2="940.7" stroke="#1f6fc6" stroke-width="3.7" />
<line x1="1020.3" y1="941.0" x2="1038.7" y2="962.3" stroke="#1f6fc6" stroke-width="3.7" />
<line x1="986.7" y1="957.0" x2="1013.3" y2="967.7" stroke="#1f6fc6" stroke-width="3.7" />
<line x1="1040.0" y1="952.3" x2="1065.3" y2="941.3" stroke="#1f6fc6" stroke-width="3.7" />
<line x1="1038.7" y1="971.0" x2="1059.3" y2="951.7" stroke="#1f6fc6" stroke-width="3.7" />
<line x1="1069.3" y1="943.0" x2="1088.7" y2="921.7" stroke="#1f6fc6" stroke-width="3.7" />
<line x1="1077.3" y1="940.3" x2="1100.7" y2="925.0" stroke="#1f6fc6" stroke-width="3.7" />
<line x1="1114.7" y1="922.3" x2="1141.3" y2="933.0" stroke="#1f6fc6" stroke-width="3.7" />
<line x1="1096.0" y1="936.3" x2="1116.0" y2="955.4" stroke="#1f6fc6" stroke-width="3.7" />
<line x1="1068.7" y1="949.7" x2="1094.0" y2="961.0" stroke="#1f6fc6" stroke-width="3.7" />
<line x1="1127.3" y1="935.7" x2="1128.7" y2="963.7" stroke="#1f6fc6" stroke-width="3.7" />
<line x1="1134.7" y1="944.3" x2="1160.7" y2="933.3" stroke="#1f6fc6" stroke-width="3.7" />
<line x1="980.7" y1="969.7" x2="1000.0" y2="991.0" stroke="#1f6fc6" stroke-width="3.7" />
<line x1="1008.0" y1="978.1" x2="1033.3" y2="967.7" stroke="#1f6fc6" stroke-width="3.7" />
<line x1="1056.0" y1="979.0" x2="1079.3" y2="961.7" stroke="#1f6fc6" stroke-width="3.7" />
<line x1="1090.0" y1="974.3" x2="1115.3" y2="963.0" stroke="#1f6fc6" stroke-width="3.7" />
<line x1="1126.0" y1="972.3" x2="1152.0" y2="961.7" stroke="#1f6fc6" stroke-width="3.7" />
<line x1="1003.3" y1="983.7" x2="1028.0" y2="997.0" stroke="#1f6fc6" stroke-width="3.7" />
<line x1="1022.7" y1="984.7" x2="1046.0" y2="999.9" stroke="#1f6fc6" stroke-width="3.7" />
<line x1="1031.3" y1="979.0" x2="1056.7" y2="991.7" stroke="#1f6fc6" stroke-width="3.7" />
<line x1="1063.3" y1="996.3" x2="1078.7" y2="971.7" stroke="#1f6fc6" stroke-width="3.7" />
<line x1="1073.3" y1="997.0" x2="1099.3" y2="985.7" stroke="#1f6fc6" stroke-width="3.7" />
<line x1="1108.0" y1="1004.3" x2="1124.0" y2="981.0" stroke="#1f6fc6" stroke-width="3.7" />
<line x1="1130.0" y1="986.3" x2="1148.7" y2="1008.3" stroke="#1f6fc6" stroke-width="3.7" />
<line x1="1155.7" y1="979.7" x2="1157.3" y2="1008.3" stroke="#1f6fc6" stroke-width="3.7" />
<line x1="984.0" y1="1007.9" x2="1008.7" y2="993.7" stroke="#1f6fc6" stroke-width="3.7" />
<line x1="1011.3" y1="1001.7" x2="1039.3" y2="1010.1" stroke="#1f6fc6" stroke-width="3.7" />
<line x1="1072.7" y1="1009.0" x2="1099.3" y2="1000.7" stroke="#1f6fc6" stroke-width="3.7" />
<line x1="979.3" y1="921.3" x2="1173.0" y2="921.3" stroke="#1a1a1a" stroke-width="3.3" />
<line x1="978.0" y1="1016.0" x2="1172.0" y2="1016.0" stroke="#1a1a1a" stroke-width="3.3" />
<text x="1075.7" y="1037.8" font-size="10.5" fill="#5a5a5a" text-anchor="middle" >s' = 0</text>
<line x1="1000.0" y1="1056.4" x2="1029.3" y2="1056.4" stroke="#1f6fc6" stroke-width="4" />
<line x1="1040.7" y1="1056.4" x2="1070.0" y2="1056.4" stroke="#1f6fc6" stroke-width="4" />
<line x1="1082.4" y1="1056.4" x2="1111.7" y2="1056.4" stroke="#1f6fc6" stroke-width="4" />
<line x1="1121.3" y1="1056.4" x2="1150.7" y2="1056.4" stroke="#1f6fc6" stroke-width="4" />
<line x1="1060.9" y1="1064.0" x2="1090.3" y2="1064.0" stroke="#1f6fc6" stroke-width="4" />
<line x1="984.9" y1="1070.4" x2="1014.3" y2="1070.4" stroke="#1f6fc6" stroke-width="4" />
<line x1="1024.9" y1="1071.6" x2="1054.3" y2="1071.6" stroke="#1f6fc6" stroke-width="4" />
<line x1="1096.0" y1="1070.4" x2="1125.3" y2="1070.4" stroke="#1f6fc6" stroke-width="4" />
<line x1="1138.7" y1="1069.7" x2="1168.0" y2="1069.7" stroke="#1f6fc6" stroke-width="4" />
<line x1="1056.3" y1="1081.7" x2="1085.6" y2="1081.7" stroke="#1f6fc6" stroke-width="4" />
<line x1="1032.7" y1="1088.3" x2="1062.0" y2="1088.3" stroke="#1f6fc6" stroke-width="4" />
<line x1="1078.0" y1="1087.6" x2="1107.3" y2="1087.6" stroke="#1f6fc6" stroke-width="4" />
<line x1="1118.3" y1="1087.6" x2="1147.6" y2="1087.6" stroke="#1f6fc6" stroke-width="4" />
<line x1="990.3" y1="1098.0" x2="1019.6" y2="1098.0" stroke="#1f6fc6" stroke-width="4" />
<line x1="1128.7" y1="1098.0" x2="1158.0" y2="1098.0" stroke="#1f6fc6" stroke-width="4" />
<line x1="1087.3" y1="1103.6" x2="1116.7" y2="1103.6" stroke="#1f6fc6" stroke-width="4" />
<line x1="1018.0" y1="1108.3" x2="1047.3" y2="1108.3" stroke="#1f6fc6" stroke-width="4" />
<line x1="1064.3" y1="1110.3" x2="1093.6" y2="1110.3" stroke="#1f6fc6" stroke-width="4" />
<line x1="1111.1" y1="1110.7" x2="1140.4" y2="1110.7" stroke="#1f6fc6" stroke-width="4" />
<line x1="979.3" y1="1117.3" x2="1008.7" y2="1117.3" stroke="#1f6fc6" stroke-width="4" />
<line x1="1028.4" y1="1117.3" x2="1057.7" y2="1117.3" stroke="#1f6fc6" stroke-width="4" />
<line x1="1086.7" y1="1117.7" x2="1116.0" y2="1117.7" stroke="#1f6fc6" stroke-width="4" />
<line x1="1130.4" y1="1117.7" x2="1159.7" y2="1117.7" stroke="#1f6fc6" stroke-width="4" />
<line x1="993.3" y1="1125.6" x2="1022.7" y2="1125.6" stroke="#1f6fc6" stroke-width="4" />
<line x1="1047.3" y1="1125.6" x2="1076.7" y2="1125.6" stroke="#1f6fc6" stroke-width="4" />
<line x1="1103.7" y1="1125.6" x2="1133.1" y2="1125.6" stroke="#1f6fc6" stroke-width="4" />
<line x1="1143.7" y1="1125.6" x2="1173.1" y2="1125.6" stroke="#1f6fc6" stroke-width="4" />
<line x1="1017.3" y1="1133.7" x2="1046.7" y2="1133.7" stroke="#1f6fc6" stroke-width="4" />
<line x1="1066.0" y1="1136.0" x2="1095.3" y2="1136.0" stroke="#1f6fc6" stroke-width="4" />
<line x1="1122.4" y1="1133.7" x2="1151.7" y2="1133.7" stroke="#1f6fc6" stroke-width="4" />
<line x1="978.7" y1="1047.0" x2="1172.0" y2="1047.0" stroke="#1a1a1a" stroke-width="3.3" />
<line x1="978.7" y1="1140.7" x2="1172.0" y2="1140.7" stroke="#1a1a1a" stroke-width="3.3" />
<text x="1088.0" y="1164.4" font-size="11.5" fill="#555" text-anchor="middle" >s' = 1</text>
</g>
<g filter="url(#soft)">
<polyline points="1260.3,791.2 1262.5,791.4 1264.7,791.5 1266.9,791.7 1269.1,791.9 1271.3,792.0 1273.5,792.2 1275.7,792.3 1277.9,792.5 1280.1,792.7 1282.3,792.8 1284.5,793.0 1286.7,793.2 1288.9,793.3 1291.1,793.5 1293.3,793.7 1295.5,793.8 1297.6,794.0 1299.8,794.2 1302.0,794.3 1304.2,794.5 1326.2,796.1 1348.2,797.8 1370.2,799.4 1392.1,801.0 1414.1,802.7 1436.1,804.3 1458.0,806.0 1480.0,807.6 1502.0,809.2 1523.9,810.9 1545.9,812.5 1567.9,814.1 1589.9,815.8 1611.8,817.4 1633.8,819.1 1655.8,820.7 1677.7,822.3 1699.7,824.0" fill="none" stroke="#3c3c3c" stroke-width="1.9" stroke-linejoin="round"/>
<polyline points="1260.3,791.2 1262.5,806.0 1264.7,819.6 1266.9,832.0 1269.1,843.5 1271.3,854.1 1273.5,863.9 1275.7,873.0 1277.9,881.6 1280.1,889.5 1282.3,896.9 1284.5,903.9 1286.7,910.5 1288.9,916.6 1291.1,922.5 1293.3,928.0 1295.5,933.2 1297.6,938.1 1299.8,942.8 1302.0,947.3 1304.2,951.5 1326.2,984.8 1348.2,1007.3 1370.2,1023.4 1392.1,1035.6 1414.1,1045.1 1436.1,1052.7 1458.0,1059.0 1480.0,1064.2 1502.0,1068.7 1523.9,1072.5 1545.9,1075.8 1567.9,1078.7 1589.9,1081.2 1611.8,1083.5 1633.8,1085.6 1655.8,1087.4 1677.7,1089.1 1699.7,1090.6" fill="none" stroke="#f24848" stroke-width="1.9" stroke-linejoin="round"/>
<polyline points="1260.3,791.2 1262.5,819.4 1264.7,843.2 1266.9,863.5 1269.1,881.1 1271.3,896.4 1273.5,909.8 1275.7,921.8 1277.9,932.4 1280.1,942.0 1282.3,950.7 1284.5,958.5 1286.7,965.7 1288.9,972.2 1291.1,978.2 1293.3,983.8 1295.5,988.9 1297.6,993.7 1299.8,998.1 1302.0,1002.3 1304.2,1006.1 1326.2,1034.3 1348.2,1051.4 1370.2,1062.8 1392.1,1071.0 1414.1,1077.2 1436.1,1082.0 1458.0,1085.8 1480.0,1089.0 1502.0,1091.6 1523.9,1093.8 1545.9,1095.8 1567.9,1097.4 1589.9,1098.9 1611.8,1100.2 1633.8,1101.3 1655.8,1102.3 1677.7,1103.2 1699.7,1104.1" fill="none" stroke="#4a4af0" stroke-width="1.9" stroke-linejoin="round"/>
<polyline points="1260.3,791.2 1262.5,831.8 1264.7,863.4 1266.9,888.8 1269.1,909.6 1271.3,927.0 1273.5,941.7 1275.7,954.4 1277.9,965.4 1280.1,975.0 1282.3,983.5 1284.5,991.0 1286.7,997.8 1288.9,1003.8 1291.1,1009.4 1293.3,1014.4 1295.5,1018.9 1297.6,1023.1 1299.8,1027.0 1302.0,1030.6 1304.2,1033.9 1326.2,1057.1 1348.2,1070.5 1370.2,1079.2 1392.1,1085.3 1414.1,1089.8 1436.1,1093.3 1458.0,1096.1 1480.0,1098.3 1502.0,1100.2 1523.9,1101.8 1545.9,1103.1 1567.9,1104.3 1589.9,1105.3 1611.8,1106.2 1633.8,1107.0 1655.8,1107.7 1677.7,1108.3 1699.7,1108.9" fill="none" stroke="#f048f0" stroke-width="1.9" stroke-linejoin="round"/>
<polyline points="1260.3,791.2 1262.5,843.1 1264.7,880.8 1266.9,909.5 1269.1,932.1 1271.3,950.2 1273.5,965.2 1275.7,977.7 1277.9,988.4 1280.1,997.6 1282.3,1005.6 1284.5,1012.6 1286.7,1018.7 1288.9,1024.3 1291.1,1029.2 1293.3,1033.7 1295.5,1037.7 1297.6,1041.4 1299.8,1044.7 1302.0,1047.8 1304.2,1050.7 1326.2,1070.3 1348.2,1081.2 1370.2,1088.2 1392.1,1093.0 1414.1,1096.6 1436.1,1099.3 1458.0,1101.5 1480.0,1103.2 1502.0,1104.7 1523.9,1105.9 1545.9,1106.9 1567.9,1107.8 1589.9,1108.6 1611.8,1109.3 1633.8,1109.9 1655.8,1110.4 1677.7,1110.9 1699.7,1111.3" fill="none" stroke="#46a046" stroke-width="1.9" stroke-linejoin="round"/>
<rect x="1260.3" y="791.2" width="439.4" height="327.8" fill="none" stroke="#4a4a4a" stroke-width="1.9" />
<line x1="1260.3" y1="1119.0" x2="1260.3" y2="1125.5" stroke="#4a4a4a" stroke-width="1.5" />
<line x1="1304.2" y1="1119.0" x2="1304.2" y2="1122.0" stroke="#4a4a4a" stroke-width="1.2" />
<text x="1260.3" y="1140.6" font-size="15" fill="#4a4a4a" text-anchor="middle" >0.00</text>
<line x1="1348.2" y1="1119.0" x2="1348.2" y2="1125.5" stroke="#4a4a4a" stroke-width="1.5" />
<line x1="1392.1" y1="1119.0" x2="1392.1" y2="1122.0" stroke="#4a4a4a" stroke-width="1.2" />
<text x="1348.2" y="1140.6" font-size="15" fill="#4a4a4a" text-anchor="middle" >0.02</text>
<line x1="1436.1" y1="1119.0" x2="1436.1" y2="1125.5" stroke="#4a4a4a" stroke-width="1.5" />
<line x1="1480.0" y1="1119.0" x2="1480.0" y2="1122.0" stroke="#4a4a4a" stroke-width="1.2" />
<text x="1436.1" y="1140.6" font-size="15" fill="#4a4a4a" text-anchor="middle" >0.04</text>
<line x1="1523.9" y1="1119.0" x2="1523.9" y2="1125.5" stroke="#4a4a4a" stroke-width="1.5" />
<line x1="1567.9" y1="1119.0" x2="1567.9" y2="1122.0" stroke="#4a4a4a" stroke-width="1.2" />
<text x="1523.9" y="1140.6" font-size="15" fill="#4a4a4a" text-anchor="middle" >0.06</text>
<line x1="1611.8" y1="1119.0" x2="1611.8" y2="1125.5" stroke="#4a4a4a" stroke-width="1.5" />
<line x1="1655.8" y1="1119.0" x2="1655.8" y2="1122.0" stroke="#4a4a4a" stroke-width="1.2" />
<text x="1611.8" y="1140.6" font-size="15" fill="#4a4a4a" text-anchor="middle" >0.08</text>
<line x1="1699.7" y1="1119.0" x2="1699.7" y2="1125.5" stroke="#4a4a4a" stroke-width="1.5" />
<text x="1699.7" y="1140.6" font-size="15" fill="#4a4a4a" text-anchor="middle" >0.10</text>
<line x1="1253.3" y1="1119.0" x2="1260.3" y2="1119.0" stroke="#4a4a4a" stroke-width="1.5" />
<line x1="1256.3" y1="1086.2" x2="1260.3" y2="1086.2" stroke="#4a4a4a" stroke-width="1.3" />
<text x="1250.0" y="1124.3" font-size="15" fill="#444" text-anchor="end" >0.0</text>
<line x1="1253.3" y1="1053.4" x2="1260.3" y2="1053.4" stroke="#4a4a4a" stroke-width="1.5" />
<line x1="1256.3" y1="1020.7" x2="1260.3" y2="1020.7" stroke="#4a4a4a" stroke-width="1.3" />
<text x="1250.0" y="1058.7" font-size="15" fill="#444" text-anchor="end" >0.2</text>
<line x1="1253.3" y1="987.9" x2="1260.3" y2="987.9" stroke="#4a4a4a" stroke-width="1.5" />
<line x1="1256.3" y1="955.1" x2="1260.3" y2="955.1" stroke="#4a4a4a" stroke-width="1.3" />
<text x="1250.0" y="993.2" font-size="15" fill="#444" text-anchor="end" >0.4</text>
<line x1="1253.3" y1="922.3" x2="1260.3" y2="922.3" stroke="#4a4a4a" stroke-width="1.5" />
<line x1="1256.3" y1="889.5" x2="1260.3" y2="889.5" stroke="#4a4a4a" stroke-width="1.3" />
<text x="1250.0" y="927.6" font-size="15" fill="#444" text-anchor="end" >0.6</text>
<line x1="1253.3" y1="856.8" x2="1260.3" y2="856.8" stroke="#4a4a4a" stroke-width="1.5" />
<line x1="1256.3" y1="824.0" x2="1260.3" y2="824.0" stroke="#4a4a4a" stroke-width="1.3" />
<text x="1250.0" y="862.1" font-size="15" fill="#444" text-anchor="end" >0.8</text>
<line x1="1253.3" y1="791.2" x2="1260.3" y2="791.2" stroke="#4a4a4a" stroke-width="1.5" />
<text x="1250.0" y="796.5" font-size="15" fill="#444" text-anchor="end" >1.0</text>
<text x="1388.0" y="1167.6" font-size="16.5" fill="#4a4a4a" >Filler volume fraction (ϕ<tspan font-size="10" dy="4">d</tspan><tspan dy="-4">)</tspan></text>
<text x="0" y="0" font-size="16.5" fill="#4a4a4a" text-anchor="middle" textLength="210.0" lengthAdjust="spacingAndGlyphs" transform="translate(1215.0 943.0) rotate(-90)" >Relative Permeability (P/Pₒ)</text>
<rect x="1543.6" y="856.5" width="134.0" height="104.5" fill="#e4e4e4" stroke="none" stroke-width="1" />
<rect x="1542.8" y="855.9" width="134.0" height="104.5" fill="#fff" stroke="#9c9c9c" stroke-width="1.3" />
<line x1="1549.5" y1="867.8" x2="1584.0" y2="867.8" stroke="#3c3c3c" stroke-width="2.4" />
<text x="1592.0" y="873.4" font-size="17" fill="#444" >S' =-0.5</text>
<line x1="1549.5" y1="888.7" x2="1584.0" y2="888.7" stroke="#f24848" stroke-width="2.4" />
<text x="1592.0" y="894.3" font-size="17" fill="#444" >S' =-0.125</text>
<line x1="1549.5" y1="909.6" x2="1584.0" y2="909.6" stroke="#4a4af0" stroke-width="2.4" />
<text x="1592.0" y="915.2" font-size="17" fill="#444" >S' = 0.25</text>
<line x1="1549.5" y1="930.5" x2="1584.0" y2="930.5" stroke="#f048f0" stroke-width="2.4" />
<text x="1592.0" y="936.1" font-size="17" fill="#444" >S' = 0.625</text>
<line x1="1549.5" y1="951.4" x2="1584.0" y2="951.4" stroke="#46a046" stroke-width="2.4" />
<text x="1592.0" y="957.0" font-size="17" fill="#444" >S' =1</text>
</g>
</g>
</svg>
</body></html>
